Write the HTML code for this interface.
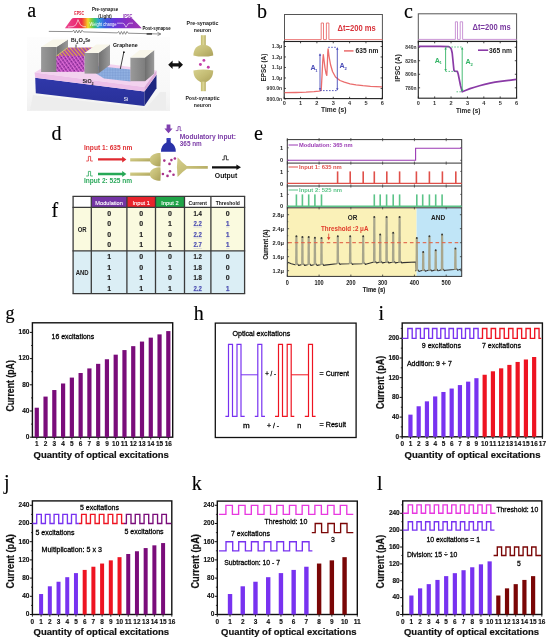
<!DOCTYPE html>
<html><head><meta charset="utf-8"><title>Figure</title>
<style>
html,body{margin:0;padding:0;background:#fff;}
body{width:550px;height:642px;overflow:hidden;font-family:"Liberation Sans", sans-serif;}
svg{display:block;filter:blur(0.3px);}
</style></head><body>
<svg width="550" height="642" viewBox="0 0 550 642" font-family='"Liberation Sans", sans-serif'>
<rect x="32.4" y="322.8" width="140.3" height="114.4" fill="none" stroke="#111" stroke-width="1.4"/>
<line x1="29.8" y1="437.2" x2="32.4" y2="437.2" stroke="#111" stroke-width="1"/>
<text x="29.4" y="439" font-size="7.5" fill="#111" stroke="#111" stroke-width="0.15" font-weight="bold" text-anchor="end" textLength="3.6" lengthAdjust="spacingAndGlyphs">0</text>
<line x1="29.8" y1="411" x2="32.4" y2="411" stroke="#111" stroke-width="1"/>
<text x="29.4" y="412.8" font-size="7.5" fill="#111" stroke="#111" stroke-width="0.15" font-weight="bold" text-anchor="end" textLength="7.2" lengthAdjust="spacingAndGlyphs">40</text>
<line x1="29.8" y1="384.8" x2="32.4" y2="384.8" stroke="#111" stroke-width="1"/>
<text x="29.4" y="386.6" font-size="7.5" fill="#111" stroke="#111" stroke-width="0.15" font-weight="bold" text-anchor="end" textLength="7.2" lengthAdjust="spacingAndGlyphs">80</text>
<line x1="29.8" y1="358.6" x2="32.4" y2="358.6" stroke="#111" stroke-width="1"/>
<text x="29.4" y="360.4" font-size="7.5" fill="#111" stroke="#111" stroke-width="0.15" font-weight="bold" text-anchor="end" textLength="10.8" lengthAdjust="spacingAndGlyphs">120</text>
<line x1="29.8" y1="332.4" x2="32.4" y2="332.4" stroke="#111" stroke-width="1"/>
<text x="29.4" y="334.2" font-size="7.5" fill="#111" stroke="#111" stroke-width="0.15" font-weight="bold" text-anchor="end" textLength="10.8" lengthAdjust="spacingAndGlyphs">160</text>
<line x1="31" y1="424.1" x2="32.4" y2="424.1" stroke="#111" stroke-width="0.8"/>
<line x1="31" y1="397.9" x2="32.4" y2="397.9" stroke="#111" stroke-width="0.8"/>
<line x1="31" y1="371.7" x2="32.4" y2="371.7" stroke="#111" stroke-width="0.8"/>
<line x1="31" y1="345.5" x2="32.4" y2="345.5" stroke="#111" stroke-width="0.8"/>
<line x1="36.78" y1="437.2" x2="36.78" y2="439.4" stroke="#111" stroke-width="0.9"/>
<line x1="45.55" y1="437.2" x2="45.55" y2="439.4" stroke="#111" stroke-width="0.9"/>
<line x1="54.32" y1="437.2" x2="54.32" y2="439.4" stroke="#111" stroke-width="0.9"/>
<line x1="63.09" y1="437.2" x2="63.09" y2="439.4" stroke="#111" stroke-width="0.9"/>
<line x1="71.86" y1="437.2" x2="71.86" y2="439.4" stroke="#111" stroke-width="0.9"/>
<line x1="80.63" y1="437.2" x2="80.63" y2="439.4" stroke="#111" stroke-width="0.9"/>
<line x1="89.4" y1="437.2" x2="89.4" y2="439.4" stroke="#111" stroke-width="0.9"/>
<line x1="98.17" y1="437.2" x2="98.17" y2="439.4" stroke="#111" stroke-width="0.9"/>
<line x1="106.93" y1="437.2" x2="106.93" y2="439.4" stroke="#111" stroke-width="0.9"/>
<line x1="115.7" y1="437.2" x2="115.7" y2="439.4" stroke="#111" stroke-width="0.9"/>
<line x1="124.47" y1="437.2" x2="124.47" y2="439.4" stroke="#111" stroke-width="0.9"/>
<line x1="133.24" y1="437.2" x2="133.24" y2="439.4" stroke="#111" stroke-width="0.9"/>
<line x1="142.01" y1="437.2" x2="142.01" y2="439.4" stroke="#111" stroke-width="0.9"/>
<line x1="150.78" y1="437.2" x2="150.78" y2="439.4" stroke="#111" stroke-width="0.9"/>
<line x1="159.55" y1="437.2" x2="159.55" y2="439.4" stroke="#111" stroke-width="0.9"/>
<line x1="168.32" y1="437.2" x2="168.32" y2="439.4" stroke="#111" stroke-width="0.9"/>
<text x="36.78" y="446.2" font-size="7.6" fill="#111" stroke="#111" stroke-width="0.15" font-weight="bold" text-anchor="middle" textLength="3.6" lengthAdjust="spacingAndGlyphs">1</text>
<text x="45.55" y="446.2" font-size="7.6" fill="#111" stroke="#111" stroke-width="0.15" font-weight="bold" text-anchor="middle" textLength="3.6" lengthAdjust="spacingAndGlyphs">2</text>
<text x="54.32" y="446.2" font-size="7.6" fill="#111" stroke="#111" stroke-width="0.15" font-weight="bold" text-anchor="middle" textLength="3.6" lengthAdjust="spacingAndGlyphs">3</text>
<text x="63.09" y="446.2" font-size="7.6" fill="#111" stroke="#111" stroke-width="0.15" font-weight="bold" text-anchor="middle" textLength="3.6" lengthAdjust="spacingAndGlyphs">4</text>
<text x="71.86" y="446.2" font-size="7.6" fill="#111" stroke="#111" stroke-width="0.15" font-weight="bold" text-anchor="middle" textLength="3.6" lengthAdjust="spacingAndGlyphs">5</text>
<text x="80.63" y="446.2" font-size="7.6" fill="#111" stroke="#111" stroke-width="0.15" font-weight="bold" text-anchor="middle" textLength="3.6" lengthAdjust="spacingAndGlyphs">6</text>
<text x="89.4" y="446.2" font-size="7.6" fill="#111" stroke="#111" stroke-width="0.15" font-weight="bold" text-anchor="middle" textLength="3.6" lengthAdjust="spacingAndGlyphs">7</text>
<text x="98.17" y="446.2" font-size="7.6" fill="#111" stroke="#111" stroke-width="0.15" font-weight="bold" text-anchor="middle" textLength="3.6" lengthAdjust="spacingAndGlyphs">8</text>
<text x="106.93" y="446.2" font-size="7.6" fill="#111" stroke="#111" stroke-width="0.15" font-weight="bold" text-anchor="middle" textLength="3.6" lengthAdjust="spacingAndGlyphs">9</text>
<text x="115.7" y="446.2" font-size="7.6" fill="#111" stroke="#111" stroke-width="0.15" font-weight="bold" text-anchor="middle" textLength="7.2" lengthAdjust="spacingAndGlyphs">10</text>
<text x="124.47" y="446.2" font-size="7.6" fill="#111" stroke="#111" stroke-width="0.15" font-weight="bold" text-anchor="middle" textLength="7.2" lengthAdjust="spacingAndGlyphs">11</text>
<text x="133.24" y="446.2" font-size="7.6" fill="#111" stroke="#111" stroke-width="0.15" font-weight="bold" text-anchor="middle" textLength="7.2" lengthAdjust="spacingAndGlyphs">12</text>
<text x="142.01" y="446.2" font-size="7.6" fill="#111" stroke="#111" stroke-width="0.15" font-weight="bold" text-anchor="middle" textLength="7.2" lengthAdjust="spacingAndGlyphs">13</text>
<text x="150.78" y="446.2" font-size="7.6" fill="#111" stroke="#111" stroke-width="0.15" font-weight="bold" text-anchor="middle" textLength="7.2" lengthAdjust="spacingAndGlyphs">14</text>
<text x="159.55" y="446.2" font-size="7.6" fill="#111" stroke="#111" stroke-width="0.15" font-weight="bold" text-anchor="middle" textLength="7.2" lengthAdjust="spacingAndGlyphs">15</text>
<text x="168.32" y="446.2" font-size="7.6" fill="#111" stroke="#111" stroke-width="0.15" font-weight="bold" text-anchor="middle" textLength="7.2" lengthAdjust="spacingAndGlyphs">16</text>
<rect x="34.68" y="407.72" width="4.2" height="29.48" fill="#7a0c7a"/>
<rect x="43.45" y="396.59" width="4.2" height="40.61" fill="#7a0c7a"/>
<rect x="52.22" y="390.04" width="4.2" height="47.16" fill="#7a0c7a"/>
<rect x="60.99" y="383.49" width="4.2" height="53.71" fill="#7a0c7a"/>
<rect x="69.76" y="377.59" width="4.2" height="59.61" fill="#7a0c7a"/>
<rect x="78.53" y="373.01" width="4.2" height="64.19" fill="#7a0c7a"/>
<rect x="87.3" y="368.42" width="4.2" height="68.78" fill="#7a0c7a"/>
<rect x="96.07" y="363.84" width="4.2" height="73.36" fill="#7a0c7a"/>
<rect x="104.83" y="359.25" width="4.2" height="77.94" fill="#7a0c7a"/>
<rect x="113.6" y="354.67" width="4.2" height="82.53" fill="#7a0c7a"/>
<rect x="122.37" y="350.08" width="4.2" height="87.12" fill="#7a0c7a"/>
<rect x="131.14" y="346.15" width="4.2" height="91.05" fill="#7a0c7a"/>
<rect x="139.91" y="341.57" width="4.2" height="95.63" fill="#7a0c7a"/>
<rect x="148.68" y="337.64" width="4.2" height="99.56" fill="#7a0c7a"/>
<rect x="157.45" y="334.37" width="4.2" height="102.83" fill="#7a0c7a"/>
<rect x="166.22" y="331.09" width="4.2" height="106.11" fill="#7a0c7a"/>
<text x="51.5" y="338.8" font-size="7.4" fill="#000" stroke="#000" stroke-width="0.28" textLength="42.7" lengthAdjust="spacingAndGlyphs">16 excitations</text>
<text x="13.7" y="385.9" font-size="10.2" fill="#111" stroke="#111" stroke-width="0.2" font-weight="bold" text-anchor="middle" textLength="51.4" lengthAdjust="spacingAndGlyphs" transform="rotate(-90 13.7 385.9)">Current (pA)</text>
<text x="33.6" y="458" font-size="9.5" fill="#111" stroke="#111" stroke-width="0.2" font-weight="bold" textLength="135.2" lengthAdjust="spacingAndGlyphs">Quantity of optical excitations</text>
<rect x="402.2" y="323" width="140.2" height="113.8" fill="none" stroke="#111" stroke-width="1.4"/>
<line x1="399.6" y1="436.8" x2="402.2" y2="436.8" stroke="#111" stroke-width="1"/>
<text x="399.2" y="438.6" font-size="7.5" fill="#111" stroke="#111" stroke-width="0.15" font-weight="bold" text-anchor="end" textLength="3.6" lengthAdjust="spacingAndGlyphs">0</text>
<line x1="399.6" y1="417.1" x2="402.2" y2="417.1" stroke="#111" stroke-width="1"/>
<text x="399.2" y="418.9" font-size="7.5" fill="#111" stroke="#111" stroke-width="0.15" font-weight="bold" text-anchor="end" textLength="7.2" lengthAdjust="spacingAndGlyphs">40</text>
<line x1="399.6" y1="397.4" x2="402.2" y2="397.4" stroke="#111" stroke-width="1"/>
<text x="399.2" y="399.2" font-size="7.5" fill="#111" stroke="#111" stroke-width="0.15" font-weight="bold" text-anchor="end" textLength="7.2" lengthAdjust="spacingAndGlyphs">80</text>
<line x1="399.6" y1="377.7" x2="402.2" y2="377.7" stroke="#111" stroke-width="1"/>
<text x="399.2" y="379.5" font-size="7.5" fill="#111" stroke="#111" stroke-width="0.15" font-weight="bold" text-anchor="end" textLength="10.8" lengthAdjust="spacingAndGlyphs">120</text>
<line x1="399.6" y1="358" x2="402.2" y2="358" stroke="#111" stroke-width="1"/>
<text x="399.2" y="359.8" font-size="7.5" fill="#111" stroke="#111" stroke-width="0.15" font-weight="bold" text-anchor="end" textLength="10.8" lengthAdjust="spacingAndGlyphs">160</text>
<line x1="399.6" y1="338.3" x2="402.2" y2="338.3" stroke="#111" stroke-width="1"/>
<text x="399.2" y="340.1" font-size="7.5" fill="#111" stroke="#111" stroke-width="0.15" font-weight="bold" text-anchor="end" textLength="10.8" lengthAdjust="spacingAndGlyphs">200</text>
<line x1="400.8" y1="426.95" x2="402.2" y2="426.95" stroke="#111" stroke-width="0.8"/>
<line x1="400.8" y1="407.25" x2="402.2" y2="407.25" stroke="#111" stroke-width="0.8"/>
<line x1="400.8" y1="387.55" x2="402.2" y2="387.55" stroke="#111" stroke-width="0.8"/>
<line x1="400.8" y1="367.85" x2="402.2" y2="367.85" stroke="#111" stroke-width="0.8"/>
<line x1="400.8" y1="348.15" x2="402.2" y2="348.15" stroke="#111" stroke-width="0.8"/>
<line x1="400.8" y1="328.45" x2="402.2" y2="328.45" stroke="#111" stroke-width="0.8"/>
<line x1="402.2" y1="436.8" x2="402.2" y2="439" stroke="#111" stroke-width="0.9"/>
<line x1="410.45" y1="436.8" x2="410.45" y2="439" stroke="#111" stroke-width="0.9"/>
<line x1="418.69" y1="436.8" x2="418.69" y2="439" stroke="#111" stroke-width="0.9"/>
<line x1="426.94" y1="436.8" x2="426.94" y2="439" stroke="#111" stroke-width="0.9"/>
<line x1="435.19" y1="436.8" x2="435.19" y2="439" stroke="#111" stroke-width="0.9"/>
<line x1="443.44" y1="436.8" x2="443.44" y2="439" stroke="#111" stroke-width="0.9"/>
<line x1="451.68" y1="436.8" x2="451.68" y2="439" stroke="#111" stroke-width="0.9"/>
<line x1="459.93" y1="436.8" x2="459.93" y2="439" stroke="#111" stroke-width="0.9"/>
<line x1="468.18" y1="436.8" x2="468.18" y2="439" stroke="#111" stroke-width="0.9"/>
<line x1="476.42" y1="436.8" x2="476.42" y2="439" stroke="#111" stroke-width="0.9"/>
<line x1="484.67" y1="436.8" x2="484.67" y2="439" stroke="#111" stroke-width="0.9"/>
<line x1="492.92" y1="436.8" x2="492.92" y2="439" stroke="#111" stroke-width="0.9"/>
<line x1="501.16" y1="436.8" x2="501.16" y2="439" stroke="#111" stroke-width="0.9"/>
<line x1="509.41" y1="436.8" x2="509.41" y2="439" stroke="#111" stroke-width="0.9"/>
<line x1="517.66" y1="436.8" x2="517.66" y2="439" stroke="#111" stroke-width="0.9"/>
<line x1="525.91" y1="436.8" x2="525.91" y2="439" stroke="#111" stroke-width="0.9"/>
<line x1="534.15" y1="436.8" x2="534.15" y2="439" stroke="#111" stroke-width="0.9"/>
<line x1="542.4" y1="436.8" x2="542.4" y2="439" stroke="#111" stroke-width="0.9"/>
<text x="402.2" y="445.8" font-size="7.6" fill="#111" stroke="#111" stroke-width="0.15" font-weight="bold" text-anchor="middle" textLength="3.6" lengthAdjust="spacingAndGlyphs">0</text>
<text x="410.45" y="445.8" font-size="7.6" fill="#111" stroke="#111" stroke-width="0.15" font-weight="bold" text-anchor="middle" textLength="3.6" lengthAdjust="spacingAndGlyphs">1</text>
<text x="418.69" y="445.8" font-size="7.6" fill="#111" stroke="#111" stroke-width="0.15" font-weight="bold" text-anchor="middle" textLength="3.6" lengthAdjust="spacingAndGlyphs">2</text>
<text x="426.94" y="445.8" font-size="7.6" fill="#111" stroke="#111" stroke-width="0.15" font-weight="bold" text-anchor="middle" textLength="3.6" lengthAdjust="spacingAndGlyphs">3</text>
<text x="435.19" y="445.8" font-size="7.6" fill="#111" stroke="#111" stroke-width="0.15" font-weight="bold" text-anchor="middle" textLength="3.6" lengthAdjust="spacingAndGlyphs">4</text>
<text x="443.44" y="445.8" font-size="7.6" fill="#111" stroke="#111" stroke-width="0.15" font-weight="bold" text-anchor="middle" textLength="3.6" lengthAdjust="spacingAndGlyphs">5</text>
<text x="451.68" y="445.8" font-size="7.6" fill="#111" stroke="#111" stroke-width="0.15" font-weight="bold" text-anchor="middle" textLength="3.6" lengthAdjust="spacingAndGlyphs">6</text>
<text x="459.93" y="445.8" font-size="7.6" fill="#111" stroke="#111" stroke-width="0.15" font-weight="bold" text-anchor="middle" textLength="3.6" lengthAdjust="spacingAndGlyphs">7</text>
<text x="468.18" y="445.8" font-size="7.6" fill="#111" stroke="#111" stroke-width="0.15" font-weight="bold" text-anchor="middle" textLength="3.6" lengthAdjust="spacingAndGlyphs">8</text>
<text x="476.42" y="445.8" font-size="7.6" fill="#111" stroke="#111" stroke-width="0.15" font-weight="bold" text-anchor="middle" textLength="3.6" lengthAdjust="spacingAndGlyphs">9</text>
<text x="484.67" y="445.8" font-size="7.6" fill="#111" stroke="#111" stroke-width="0.15" font-weight="bold" text-anchor="middle" textLength="7.2" lengthAdjust="spacingAndGlyphs">10</text>
<text x="492.92" y="445.8" font-size="7.6" fill="#111" stroke="#111" stroke-width="0.15" font-weight="bold" text-anchor="middle" textLength="7.2" lengthAdjust="spacingAndGlyphs">11</text>
<text x="501.16" y="445.8" font-size="7.6" fill="#111" stroke="#111" stroke-width="0.15" font-weight="bold" text-anchor="middle" textLength="7.2" lengthAdjust="spacingAndGlyphs">12</text>
<text x="509.41" y="445.8" font-size="7.6" fill="#111" stroke="#111" stroke-width="0.15" font-weight="bold" text-anchor="middle" textLength="7.2" lengthAdjust="spacingAndGlyphs">13</text>
<text x="517.66" y="445.8" font-size="7.6" fill="#111" stroke="#111" stroke-width="0.15" font-weight="bold" text-anchor="middle" textLength="7.2" lengthAdjust="spacingAndGlyphs">14</text>
<text x="525.91" y="445.8" font-size="7.6" fill="#111" stroke="#111" stroke-width="0.15" font-weight="bold" text-anchor="middle" textLength="7.2" lengthAdjust="spacingAndGlyphs">15</text>
<text x="534.15" y="445.8" font-size="7.6" fill="#111" stroke="#111" stroke-width="0.15" font-weight="bold" text-anchor="middle" textLength="7.2" lengthAdjust="spacingAndGlyphs">16</text>
<text x="542.4" y="445.8" font-size="7.6" fill="#111" stroke="#111" stroke-width="0.15" font-weight="bold" text-anchor="middle" textLength="7.2" lengthAdjust="spacingAndGlyphs">17</text>
<rect x="408.35" y="414.64" width="4.2" height="22.16" fill="#7832f0"/>
<rect x="416.59" y="406.26" width="4.2" height="30.54" fill="#7832f0"/>
<rect x="424.84" y="401.34" width="4.2" height="35.46" fill="#7832f0"/>
<rect x="433.09" y="396.42" width="4.2" height="40.38" fill="#7832f0"/>
<rect x="441.34" y="391.98" width="4.2" height="44.82" fill="#7832f0"/>
<rect x="449.58" y="388.54" width="4.2" height="48.26" fill="#7832f0"/>
<rect x="457.83" y="385.09" width="4.2" height="51.71" fill="#7832f0"/>
<rect x="466.08" y="381.64" width="4.2" height="55.16" fill="#7832f0"/>
<rect x="474.32" y="378.19" width="4.2" height="58.61" fill="#7832f0"/>
<rect x="482.57" y="374.75" width="4.2" height="62.06" fill="#ee1422"/>
<rect x="490.82" y="371.3" width="4.2" height="65.5" fill="#ee1422"/>
<rect x="499.06" y="368.34" width="4.2" height="68.46" fill="#ee1422"/>
<rect x="507.31" y="364.89" width="4.2" height="71.91" fill="#ee1422"/>
<rect x="515.56" y="361.94" width="4.2" height="74.86" fill="#ee1422"/>
<rect x="523.81" y="359.48" width="4.2" height="77.32" fill="#ee1422"/>
<rect x="532.05" y="357.01" width="4.2" height="79.79" fill="#ee1422"/>
<polyline points="402.2,338.3 407.8,338.3 407.8,328.45 412.2,328.45 412.2,338.3 416.04,338.3 416.04,328.45 420.44,328.45 420.44,338.3 424.28,338.3 424.28,328.45 428.68,328.45 428.68,338.3 432.52,338.3 432.52,328.45 436.92,328.45 436.92,338.3 440.76,338.3 440.76,328.45 445.16,328.45 445.16,338.3 449,338.3 449,328.45 453.4,328.45 453.4,338.3 457.24,338.3 457.24,328.45 461.64,328.45 461.64,338.3 465.48,338.3 465.48,328.45 469.88,328.45 469.88,338.3 473.72,338.3 473.72,328.45 478.12,328.45 478.12,338.3 480.3,338.3" fill="none" stroke="#7832f0" stroke-width="1.35" stroke-linejoin="miter"/>
<polyline points="480.3,338.3 482.5,338.3 482.5,328.45 486.85,328.45 486.85,338.3 491.2,338.3 491.2,328.45 495.55,328.45 495.55,338.3 499.9,338.3 499.9,328.45 504.25,328.45 504.25,338.3 508.6,338.3 508.6,328.45 512.95,328.45 512.95,338.3 517.3,338.3 517.3,328.45 521.65,328.45 521.65,338.3 526,338.3 526,328.45 530.35,328.45 530.35,338.3 534.7,338.3 534.7,328.45 539.05,328.45 539.05,338.3 541.2,338.3" fill="none" stroke="#ee1422" stroke-width="1.35" stroke-linejoin="miter"/>
<text x="421.8" y="348.4" font-size="7.4" fill="#000" stroke="#000" stroke-width="0.28" textLength="39.2" lengthAdjust="spacingAndGlyphs">9 excitations</text>
<text x="482" y="348.4" font-size="7.4" fill="#000" stroke="#000" stroke-width="0.28" textLength="39" lengthAdjust="spacingAndGlyphs">7 excitations</text>
<text x="406.9" y="365.9" font-size="7.4" fill="#000" stroke="#000" stroke-width="0.28" textLength="44.9" lengthAdjust="spacingAndGlyphs">Addition: 9 + 7</text>
<text x="384" y="382.5" font-size="10.2" fill="#111" stroke="#111" stroke-width="0.2" font-weight="bold" text-anchor="middle" textLength="53.7" lengthAdjust="spacingAndGlyphs" transform="rotate(-90 384 382.5)">Current (pA)</text>
<text x="404.5" y="458" font-size="9.5" fill="#111" stroke="#111" stroke-width="0.2" font-weight="bold" textLength="136" lengthAdjust="spacingAndGlyphs">Quantity of optical excitations</text>
<rect x="32.4" y="500.9" width="139.4" height="113.6" fill="none" stroke="#111" stroke-width="1.4"/>
<line x1="29.8" y1="614.5" x2="32.4" y2="614.5" stroke="#111" stroke-width="1"/>
<text x="29.4" y="616.3" font-size="7.5" fill="#111" stroke="#111" stroke-width="0.15" font-weight="bold" text-anchor="end" textLength="3.6" lengthAdjust="spacingAndGlyphs">0</text>
<line x1="29.8" y1="596.3" x2="32.4" y2="596.3" stroke="#111" stroke-width="1"/>
<text x="29.4" y="598.1" font-size="7.5" fill="#111" stroke="#111" stroke-width="0.15" font-weight="bold" text-anchor="end" textLength="7.2" lengthAdjust="spacingAndGlyphs">40</text>
<line x1="29.8" y1="578.1" x2="32.4" y2="578.1" stroke="#111" stroke-width="1"/>
<text x="29.4" y="579.9" font-size="7.5" fill="#111" stroke="#111" stroke-width="0.15" font-weight="bold" text-anchor="end" textLength="7.2" lengthAdjust="spacingAndGlyphs">80</text>
<line x1="29.8" y1="559.9" x2="32.4" y2="559.9" stroke="#111" stroke-width="1"/>
<text x="29.4" y="561.7" font-size="7.5" fill="#111" stroke="#111" stroke-width="0.15" font-weight="bold" text-anchor="end" textLength="10.8" lengthAdjust="spacingAndGlyphs">120</text>
<line x1="29.8" y1="541.7" x2="32.4" y2="541.7" stroke="#111" stroke-width="1"/>
<text x="29.4" y="543.5" font-size="7.5" fill="#111" stroke="#111" stroke-width="0.15" font-weight="bold" text-anchor="end" textLength="10.8" lengthAdjust="spacingAndGlyphs">160</text>
<line x1="29.8" y1="523.5" x2="32.4" y2="523.5" stroke="#111" stroke-width="1"/>
<text x="29.4" y="525.3" font-size="7.5" fill="#111" stroke="#111" stroke-width="0.15" font-weight="bold" text-anchor="end" textLength="10.8" lengthAdjust="spacingAndGlyphs">200</text>
<line x1="29.8" y1="505.3" x2="32.4" y2="505.3" stroke="#111" stroke-width="1"/>
<text x="29.4" y="507.1" font-size="7.5" fill="#111" stroke="#111" stroke-width="0.15" font-weight="bold" text-anchor="end" textLength="10.8" lengthAdjust="spacingAndGlyphs">240</text>
<line x1="31" y1="605.4" x2="32.4" y2="605.4" stroke="#111" stroke-width="0.8"/>
<line x1="31" y1="587.2" x2="32.4" y2="587.2" stroke="#111" stroke-width="0.8"/>
<line x1="31" y1="569" x2="32.4" y2="569" stroke="#111" stroke-width="0.8"/>
<line x1="31" y1="550.8" x2="32.4" y2="550.8" stroke="#111" stroke-width="0.8"/>
<line x1="31" y1="532.6" x2="32.4" y2="532.6" stroke="#111" stroke-width="0.8"/>
<line x1="31" y1="514.4" x2="32.4" y2="514.4" stroke="#111" stroke-width="0.8"/>
<line x1="32.4" y1="614.5" x2="32.4" y2="616.7" stroke="#111" stroke-width="0.9"/>
<line x1="41.11" y1="614.5" x2="41.11" y2="616.7" stroke="#111" stroke-width="0.9"/>
<line x1="49.83" y1="614.5" x2="49.83" y2="616.7" stroke="#111" stroke-width="0.9"/>
<line x1="58.54" y1="614.5" x2="58.54" y2="616.7" stroke="#111" stroke-width="0.9"/>
<line x1="67.25" y1="614.5" x2="67.25" y2="616.7" stroke="#111" stroke-width="0.9"/>
<line x1="75.96" y1="614.5" x2="75.96" y2="616.7" stroke="#111" stroke-width="0.9"/>
<line x1="84.68" y1="614.5" x2="84.68" y2="616.7" stroke="#111" stroke-width="0.9"/>
<line x1="93.39" y1="614.5" x2="93.39" y2="616.7" stroke="#111" stroke-width="0.9"/>
<line x1="102.1" y1="614.5" x2="102.1" y2="616.7" stroke="#111" stroke-width="0.9"/>
<line x1="110.81" y1="614.5" x2="110.81" y2="616.7" stroke="#111" stroke-width="0.9"/>
<line x1="119.53" y1="614.5" x2="119.53" y2="616.7" stroke="#111" stroke-width="0.9"/>
<line x1="128.24" y1="614.5" x2="128.24" y2="616.7" stroke="#111" stroke-width="0.9"/>
<line x1="136.95" y1="614.5" x2="136.95" y2="616.7" stroke="#111" stroke-width="0.9"/>
<line x1="145.66" y1="614.5" x2="145.66" y2="616.7" stroke="#111" stroke-width="0.9"/>
<line x1="154.38" y1="614.5" x2="154.38" y2="616.7" stroke="#111" stroke-width="0.9"/>
<line x1="163.09" y1="614.5" x2="163.09" y2="616.7" stroke="#111" stroke-width="0.9"/>
<line x1="171.8" y1="614.5" x2="171.8" y2="616.7" stroke="#111" stroke-width="0.9"/>
<text x="32.4" y="623.5" font-size="7.6" fill="#111" stroke="#111" stroke-width="0.15" font-weight="bold" text-anchor="middle" textLength="3.6" lengthAdjust="spacingAndGlyphs">0</text>
<text x="41.11" y="623.5" font-size="7.6" fill="#111" stroke="#111" stroke-width="0.15" font-weight="bold" text-anchor="middle" textLength="3.6" lengthAdjust="spacingAndGlyphs">1</text>
<text x="49.83" y="623.5" font-size="7.6" fill="#111" stroke="#111" stroke-width="0.15" font-weight="bold" text-anchor="middle" textLength="3.6" lengthAdjust="spacingAndGlyphs">2</text>
<text x="58.54" y="623.5" font-size="7.6" fill="#111" stroke="#111" stroke-width="0.15" font-weight="bold" text-anchor="middle" textLength="3.6" lengthAdjust="spacingAndGlyphs">3</text>
<text x="67.25" y="623.5" font-size="7.6" fill="#111" stroke="#111" stroke-width="0.15" font-weight="bold" text-anchor="middle" textLength="3.6" lengthAdjust="spacingAndGlyphs">4</text>
<text x="75.96" y="623.5" font-size="7.6" fill="#111" stroke="#111" stroke-width="0.15" font-weight="bold" text-anchor="middle" textLength="3.6" lengthAdjust="spacingAndGlyphs">5</text>
<text x="84.68" y="623.5" font-size="7.6" fill="#111" stroke="#111" stroke-width="0.15" font-weight="bold" text-anchor="middle" textLength="3.6" lengthAdjust="spacingAndGlyphs">6</text>
<text x="93.39" y="623.5" font-size="7.6" fill="#111" stroke="#111" stroke-width="0.15" font-weight="bold" text-anchor="middle" textLength="3.6" lengthAdjust="spacingAndGlyphs">7</text>
<text x="102.1" y="623.5" font-size="7.6" fill="#111" stroke="#111" stroke-width="0.15" font-weight="bold" text-anchor="middle" textLength="3.6" lengthAdjust="spacingAndGlyphs">8</text>
<text x="110.81" y="623.5" font-size="7.6" fill="#111" stroke="#111" stroke-width="0.15" font-weight="bold" text-anchor="middle" textLength="3.6" lengthAdjust="spacingAndGlyphs">9</text>
<text x="119.53" y="623.5" font-size="7.6" fill="#111" stroke="#111" stroke-width="0.15" font-weight="bold" text-anchor="middle" textLength="7.2" lengthAdjust="spacingAndGlyphs">10</text>
<text x="128.24" y="623.5" font-size="7.6" fill="#111" stroke="#111" stroke-width="0.15" font-weight="bold" text-anchor="middle" textLength="7.2" lengthAdjust="spacingAndGlyphs">11</text>
<text x="136.95" y="623.5" font-size="7.6" fill="#111" stroke="#111" stroke-width="0.15" font-weight="bold" text-anchor="middle" textLength="7.2" lengthAdjust="spacingAndGlyphs">12</text>
<text x="145.66" y="623.5" font-size="7.6" fill="#111" stroke="#111" stroke-width="0.15" font-weight="bold" text-anchor="middle" textLength="7.2" lengthAdjust="spacingAndGlyphs">13</text>
<text x="154.38" y="623.5" font-size="7.6" fill="#111" stroke="#111" stroke-width="0.15" font-weight="bold" text-anchor="middle" textLength="7.2" lengthAdjust="spacingAndGlyphs">14</text>
<text x="163.09" y="623.5" font-size="7.6" fill="#111" stroke="#111" stroke-width="0.15" font-weight="bold" text-anchor="middle" textLength="7.2" lengthAdjust="spacingAndGlyphs">15</text>
<text x="171.8" y="623.5" font-size="7.6" fill="#111" stroke="#111" stroke-width="0.15" font-weight="bold" text-anchor="middle" textLength="7.2" lengthAdjust="spacingAndGlyphs">16</text>
<rect x="39.11" y="594.02" width="4" height="20.48" fill="#7832f0"/>
<rect x="47.83" y="586.29" width="4" height="28.21" fill="#7832f0"/>
<rect x="56.54" y="581.74" width="4" height="32.76" fill="#7832f0"/>
<rect x="65.25" y="577.19" width="4" height="37.31" fill="#7832f0"/>
<rect x="73.96" y="573.1" width="4" height="41.4" fill="#7832f0"/>
<rect x="82.68" y="569.91" width="4" height="44.59" fill="#ee1422"/>
<rect x="91.39" y="566.73" width="4" height="47.77" fill="#ee1422"/>
<rect x="100.1" y="563.54" width="4" height="50.96" fill="#ee1422"/>
<rect x="108.81" y="560.36" width="4" height="54.14" fill="#ee1422"/>
<rect x="117.53" y="557.17" width="4" height="57.33" fill="#ee1422"/>
<rect x="126.24" y="553.99" width="4" height="60.51" fill="#7a0c7a"/>
<rect x="134.95" y="551.25" width="4" height="63.25" fill="#7a0c7a"/>
<rect x="143.66" y="548.07" width="4" height="66.43" fill="#7a0c7a"/>
<rect x="152.38" y="545.34" width="4" height="69.16" fill="#7a0c7a"/>
<rect x="161.09" y="543.07" width="4" height="71.43" fill="#7a0c7a"/>
<polyline points="32.4,523.5 36.7,523.5 36.7,514.4 41.3,514.4 41.3,523.5 45.4,523.5 45.4,514.4 50,514.4 50,523.5 54.1,523.5 54.1,514.4 58.7,514.4 58.7,523.5 62.8,523.5 62.8,514.4 67.4,514.4 67.4,523.5 71.5,523.5 71.5,514.4 76.1,514.4 76.1,523.5 78.9,523.5" fill="none" stroke="#7832f0" stroke-width="1.35" stroke-linejoin="miter"/>
<polyline points="78.9,523.5 81.6,523.5 81.6,514.4 86.2,514.4 86.2,523.5 90.45,523.5 90.45,514.4 95.05,514.4 95.05,523.5 99.3,523.5 99.3,514.4 103.9,514.4 103.9,523.5 108.15,523.5 108.15,514.4 112.75,514.4 112.75,523.5 117,523.5 117,514.4 121.6,514.4 121.6,523.5 124,523.5" fill="none" stroke="#ee1422" stroke-width="1.35" stroke-linejoin="miter"/>
<polyline points="124,523.5 126.4,523.5 126.4,514.4 131,514.4 131,523.5 135.25,523.5 135.25,514.4 139.85,514.4 139.85,523.5 144.1,523.5 144.1,514.4 148.7,514.4 148.7,523.5 152.95,523.5 152.95,514.4 157.55,514.4 157.55,523.5 161.8,523.5 161.8,514.4 166.4,514.4 166.4,523.5 171.2,523.5" fill="none" stroke="#7a0c7a" stroke-width="1.35" stroke-linejoin="miter"/>
<text x="80" y="509.7" font-size="7.4" fill="#000" stroke="#000" stroke-width="0.28" textLength="39" lengthAdjust="spacingAndGlyphs">5 excitations</text>
<text x="35.5" y="535.1" font-size="7.4" fill="#000" stroke="#000" stroke-width="0.28" textLength="39" lengthAdjust="spacingAndGlyphs">5 excitations</text>
<text x="124.5" y="533.9" font-size="7.4" fill="#000" stroke="#000" stroke-width="0.28" textLength="39.1" lengthAdjust="spacingAndGlyphs">5 excitations</text>
<text x="41.5" y="551.9" font-size="7.4" fill="#000" stroke="#000" stroke-width="0.28" textLength="60.4" lengthAdjust="spacingAndGlyphs">Multiplication: 5 x 3</text>
<text x="14" y="561.3" font-size="10.2" fill="#111" stroke="#111" stroke-width="0.2" font-weight="bold" text-anchor="middle" textLength="54.5" lengthAdjust="spacingAndGlyphs" transform="rotate(-90 14 561.3)">Current (pA)</text>
<text x="33.6" y="635.4" font-size="9.5" fill="#111" stroke="#111" stroke-width="0.2" font-weight="bold" textLength="135.5" lengthAdjust="spacingAndGlyphs">Quantity of optical excitations</text>
<rect x="217.3" y="501.1" width="140" height="113.4" fill="none" stroke="#111" stroke-width="1.4"/>
<line x1="214.7" y1="614.5" x2="217.3" y2="614.5" stroke="#111" stroke-width="1"/>
<text x="214.3" y="616.3" font-size="7.5" fill="#111" stroke="#111" stroke-width="0.15" font-weight="bold" text-anchor="end" textLength="3.6" lengthAdjust="spacingAndGlyphs">0</text>
<line x1="214.7" y1="596.3" x2="217.3" y2="596.3" stroke="#111" stroke-width="1"/>
<text x="214.3" y="598.1" font-size="7.5" fill="#111" stroke="#111" stroke-width="0.15" font-weight="bold" text-anchor="end" textLength="7.2" lengthAdjust="spacingAndGlyphs">40</text>
<line x1="214.7" y1="578.1" x2="217.3" y2="578.1" stroke="#111" stroke-width="1"/>
<text x="214.3" y="579.9" font-size="7.5" fill="#111" stroke="#111" stroke-width="0.15" font-weight="bold" text-anchor="end" textLength="7.2" lengthAdjust="spacingAndGlyphs">80</text>
<line x1="214.7" y1="559.9" x2="217.3" y2="559.9" stroke="#111" stroke-width="1"/>
<text x="214.3" y="561.7" font-size="7.5" fill="#111" stroke="#111" stroke-width="0.15" font-weight="bold" text-anchor="end" textLength="10.8" lengthAdjust="spacingAndGlyphs">120</text>
<line x1="214.7" y1="541.7" x2="217.3" y2="541.7" stroke="#111" stroke-width="1"/>
<text x="214.3" y="543.5" font-size="7.5" fill="#111" stroke="#111" stroke-width="0.15" font-weight="bold" text-anchor="end" textLength="10.8" lengthAdjust="spacingAndGlyphs">160</text>
<line x1="214.7" y1="523.5" x2="217.3" y2="523.5" stroke="#111" stroke-width="1"/>
<text x="214.3" y="525.3" font-size="7.5" fill="#111" stroke="#111" stroke-width="0.15" font-weight="bold" text-anchor="end" textLength="10.8" lengthAdjust="spacingAndGlyphs">200</text>
<line x1="214.7" y1="505.3" x2="217.3" y2="505.3" stroke="#111" stroke-width="1"/>
<text x="214.3" y="507.1" font-size="7.5" fill="#111" stroke="#111" stroke-width="0.15" font-weight="bold" text-anchor="end" textLength="10.8" lengthAdjust="spacingAndGlyphs">240</text>
<line x1="215.9" y1="605.4" x2="217.3" y2="605.4" stroke="#111" stroke-width="0.8"/>
<line x1="215.9" y1="587.2" x2="217.3" y2="587.2" stroke="#111" stroke-width="0.8"/>
<line x1="215.9" y1="569" x2="217.3" y2="569" stroke="#111" stroke-width="0.8"/>
<line x1="215.9" y1="550.8" x2="217.3" y2="550.8" stroke="#111" stroke-width="0.8"/>
<line x1="215.9" y1="532.6" x2="217.3" y2="532.6" stroke="#111" stroke-width="0.8"/>
<line x1="215.9" y1="514.4" x2="217.3" y2="514.4" stroke="#111" stroke-width="0.8"/>
<line x1="217.3" y1="614.5" x2="217.3" y2="616.7" stroke="#111" stroke-width="0.9"/>
<line x1="230.03" y1="614.5" x2="230.03" y2="616.7" stroke="#111" stroke-width="0.9"/>
<line x1="242.75" y1="614.5" x2="242.75" y2="616.7" stroke="#111" stroke-width="0.9"/>
<line x1="255.48" y1="614.5" x2="255.48" y2="616.7" stroke="#111" stroke-width="0.9"/>
<line x1="268.21" y1="614.5" x2="268.21" y2="616.7" stroke="#111" stroke-width="0.9"/>
<line x1="280.94" y1="614.5" x2="280.94" y2="616.7" stroke="#111" stroke-width="0.9"/>
<line x1="293.66" y1="614.5" x2="293.66" y2="616.7" stroke="#111" stroke-width="0.9"/>
<line x1="306.39" y1="614.5" x2="306.39" y2="616.7" stroke="#111" stroke-width="0.9"/>
<line x1="319.12" y1="614.5" x2="319.12" y2="616.7" stroke="#111" stroke-width="0.9"/>
<line x1="331.85" y1="614.5" x2="331.85" y2="616.7" stroke="#111" stroke-width="0.9"/>
<line x1="344.57" y1="614.5" x2="344.57" y2="616.7" stroke="#111" stroke-width="0.9"/>
<line x1="357.3" y1="614.5" x2="357.3" y2="616.7" stroke="#111" stroke-width="0.9"/>
<text x="217.3" y="623.5" font-size="7.6" fill="#111" stroke="#111" stroke-width="0.15" font-weight="bold" text-anchor="middle" textLength="3.6" lengthAdjust="spacingAndGlyphs">0</text>
<text x="230.03" y="623.5" font-size="7.6" fill="#111" stroke="#111" stroke-width="0.15" font-weight="bold" text-anchor="middle" textLength="3.6" lengthAdjust="spacingAndGlyphs">1</text>
<text x="242.75" y="623.5" font-size="7.6" fill="#111" stroke="#111" stroke-width="0.15" font-weight="bold" text-anchor="middle" textLength="3.6" lengthAdjust="spacingAndGlyphs">2</text>
<text x="255.48" y="623.5" font-size="7.6" fill="#111" stroke="#111" stroke-width="0.15" font-weight="bold" text-anchor="middle" textLength="3.6" lengthAdjust="spacingAndGlyphs">3</text>
<text x="268.21" y="623.5" font-size="7.6" fill="#111" stroke="#111" stroke-width="0.15" font-weight="bold" text-anchor="middle" textLength="3.6" lengthAdjust="spacingAndGlyphs">4</text>
<text x="280.94" y="623.5" font-size="7.6" fill="#111" stroke="#111" stroke-width="0.15" font-weight="bold" text-anchor="middle" textLength="3.6" lengthAdjust="spacingAndGlyphs">5</text>
<text x="293.66" y="623.5" font-size="7.6" fill="#111" stroke="#111" stroke-width="0.15" font-weight="bold" text-anchor="middle" textLength="3.6" lengthAdjust="spacingAndGlyphs">6</text>
<text x="306.39" y="623.5" font-size="7.6" fill="#111" stroke="#111" stroke-width="0.15" font-weight="bold" text-anchor="middle" textLength="3.6" lengthAdjust="spacingAndGlyphs">7</text>
<text x="319.12" y="623.5" font-size="7.6" fill="#111" stroke="#111" stroke-width="0.15" font-weight="bold" text-anchor="middle" textLength="3.6" lengthAdjust="spacingAndGlyphs">8</text>
<text x="331.85" y="623.5" font-size="7.6" fill="#111" stroke="#111" stroke-width="0.15" font-weight="bold" text-anchor="middle" textLength="3.6" lengthAdjust="spacingAndGlyphs">9</text>
<text x="344.57" y="623.5" font-size="7.6" fill="#111" stroke="#111" stroke-width="0.15" font-weight="bold" text-anchor="middle" textLength="7.2" lengthAdjust="spacingAndGlyphs">10</text>
<text x="357.3" y="623.5" font-size="7.6" fill="#111" stroke="#111" stroke-width="0.15" font-weight="bold" text-anchor="middle" textLength="7.2" lengthAdjust="spacingAndGlyphs">11</text>
<rect x="227.83" y="594.02" width="4.4" height="20.48" fill="#7832f0"/>
<rect x="240.55" y="586.29" width="4.4" height="28.21" fill="#7832f0"/>
<rect x="253.28" y="581.74" width="4.4" height="32.76" fill="#7832f0"/>
<rect x="266.01" y="577.19" width="4.4" height="37.31" fill="#7832f0"/>
<rect x="278.74" y="573.1" width="4.4" height="41.4" fill="#7832f0"/>
<rect x="291.46" y="569.91" width="4.4" height="44.59" fill="#7832f0"/>
<rect x="304.19" y="566.73" width="4.4" height="47.77" fill="#7832f0"/>
<rect x="316.92" y="563.54" width="4.4" height="50.96" fill="#7a0606"/>
<rect x="329.65" y="560.36" width="4.4" height="54.14" fill="#7a0606"/>
<rect x="342.37" y="557.17" width="4.4" height="57.33" fill="#7a0606"/>
<polyline points="219,514.4 225.9,514.4 225.9,505.3 232.4,505.3 232.4,514.4 238.61,514.4 238.61,505.3 245.11,505.3 245.11,514.4 251.32,514.4 251.32,505.3 257.82,505.3 257.82,514.4 264.03,514.4 264.03,505.3 270.53,505.3 270.53,514.4 276.74,514.4 276.74,505.3 283.24,505.3 283.24,514.4 289.45,514.4 289.45,505.3 295.95,505.3 295.95,514.4 302.16,514.4 302.16,505.3 308.66,505.3 308.66,514.4 314.87,514.4 314.87,505.3 321.37,505.3 321.37,514.4 327.58,514.4 327.58,505.3 334.08,505.3 334.08,514.4 340.29,514.4 340.29,505.3 346.79,505.3 346.79,514.4 353.3,514.4" fill="none" stroke="#e838e0" stroke-width="1.35" stroke-linejoin="miter"/>
<polyline points="219,550.8 226,550.8 226,541.7 232.7,541.7 232.7,550.8 238.72,550.8 238.72,541.7 245.42,541.7 245.42,550.8 251.44,550.8 251.44,541.7 258.14,541.7 258.14,550.8 264.16,550.8 264.16,541.7 270.86,541.7 270.86,550.8 276.88,550.8 276.88,541.7 283.58,541.7 283.58,550.8 289.6,550.8 289.6,541.7 296.3,541.7 296.3,550.8 302.32,550.8 302.32,541.7 309.02,541.7 309.02,550.8 312.4,550.8" fill="none" stroke="#7832f0" stroke-width="1.35" stroke-linejoin="miter"/>
<polyline points="311.8,532.6 315.2,532.6 315.2,523.5 321.6,523.5 321.6,532.6 327.91,532.6 327.91,523.5 334.31,523.5 334.31,532.6 340.62,532.6 340.62,523.5 347.02,523.5 347.02,532.6 353.3,532.6" fill="none" stroke="#7a0606" stroke-width="1.35" stroke-linejoin="miter"/>
<text x="264.5" y="523.9" font-size="7.4" fill="#000" stroke="#000" stroke-width="0.28" textLength="42.8" lengthAdjust="spacingAndGlyphs">Threshold: 10</text>
<text x="230.9" y="536.2" font-size="7.4" fill="#000" stroke="#000" stroke-width="0.28" textLength="39.1" lengthAdjust="spacingAndGlyphs">7 excitations</text>
<text x="331" y="541.6" font-size="7.8" fill="#000" stroke="#000" stroke-width="0.28" textLength="3.8" lengthAdjust="spacingAndGlyphs">3</text>
<text x="224.2" y="565.1" font-size="7.4" fill="#000" stroke="#000" stroke-width="0.28" textLength="55.8" lengthAdjust="spacingAndGlyphs">Subtraction: 10 - 7</text>
<text x="198.7" y="561.3" font-size="10.2" fill="#111" stroke="#111" stroke-width="0.2" font-weight="bold" text-anchor="middle" textLength="54.5" lengthAdjust="spacingAndGlyphs" transform="rotate(-90 198.7 561.3)">Current (pA)</text>
<text x="221" y="635.4" font-size="9.5" fill="#111" stroke="#111" stroke-width="0.2" font-weight="bold" textLength="135.5" lengthAdjust="spacingAndGlyphs">Quantity of optical excitations</text>
<rect x="402.7" y="500.9" width="139.1" height="113.6" fill="none" stroke="#111" stroke-width="1.4"/>
<line x1="400.1" y1="614.5" x2="402.7" y2="614.5" stroke="#111" stroke-width="1"/>
<text x="399.7" y="616.3" font-size="7.5" fill="#111" stroke="#111" stroke-width="0.15" font-weight="bold" text-anchor="end" textLength="3.6" lengthAdjust="spacingAndGlyphs">0</text>
<line x1="400.1" y1="597.63" x2="402.7" y2="597.63" stroke="#111" stroke-width="1"/>
<text x="399.7" y="599.43" font-size="7.5" fill="#111" stroke="#111" stroke-width="0.15" font-weight="bold" text-anchor="end" textLength="7.2" lengthAdjust="spacingAndGlyphs">40</text>
<line x1="400.1" y1="580.76" x2="402.7" y2="580.76" stroke="#111" stroke-width="1"/>
<text x="399.7" y="582.56" font-size="7.5" fill="#111" stroke="#111" stroke-width="0.15" font-weight="bold" text-anchor="end" textLength="7.2" lengthAdjust="spacingAndGlyphs">80</text>
<line x1="400.1" y1="563.9" x2="402.7" y2="563.9" stroke="#111" stroke-width="1"/>
<text x="399.7" y="565.7" font-size="7.5" fill="#111" stroke="#111" stroke-width="0.15" font-weight="bold" text-anchor="end" textLength="10.8" lengthAdjust="spacingAndGlyphs">120</text>
<line x1="400.1" y1="547.03" x2="402.7" y2="547.03" stroke="#111" stroke-width="1"/>
<text x="399.7" y="548.83" font-size="7.5" fill="#111" stroke="#111" stroke-width="0.15" font-weight="bold" text-anchor="end" textLength="10.8" lengthAdjust="spacingAndGlyphs">160</text>
<line x1="400.1" y1="530.16" x2="402.7" y2="530.16" stroke="#111" stroke-width="1"/>
<text x="399.7" y="531.96" font-size="7.5" fill="#111" stroke="#111" stroke-width="0.15" font-weight="bold" text-anchor="end" textLength="10.8" lengthAdjust="spacingAndGlyphs">200</text>
<line x1="400.1" y1="513.29" x2="402.7" y2="513.29" stroke="#111" stroke-width="1"/>
<text x="399.7" y="515.09" font-size="7.5" fill="#111" stroke="#111" stroke-width="0.15" font-weight="bold" text-anchor="end" textLength="10.8" lengthAdjust="spacingAndGlyphs">240</text>
<line x1="401.3" y1="606.07" x2="402.7" y2="606.07" stroke="#111" stroke-width="0.8"/>
<line x1="401.3" y1="589.2" x2="402.7" y2="589.2" stroke="#111" stroke-width="0.8"/>
<line x1="401.3" y1="572.33" x2="402.7" y2="572.33" stroke="#111" stroke-width="0.8"/>
<line x1="401.3" y1="555.46" x2="402.7" y2="555.46" stroke="#111" stroke-width="0.8"/>
<line x1="401.3" y1="538.59" x2="402.7" y2="538.59" stroke="#111" stroke-width="0.8"/>
<line x1="401.3" y1="521.73" x2="402.7" y2="521.73" stroke="#111" stroke-width="0.8"/>
<line x1="401.3" y1="504.86" x2="402.7" y2="504.86" stroke="#111" stroke-width="0.8"/>
<line x1="402.7" y1="614.5" x2="402.7" y2="616.7" stroke="#111" stroke-width="0.9"/>
<line x1="411.39" y1="614.5" x2="411.39" y2="616.7" stroke="#111" stroke-width="0.9"/>
<line x1="420.09" y1="614.5" x2="420.09" y2="616.7" stroke="#111" stroke-width="0.9"/>
<line x1="428.78" y1="614.5" x2="428.78" y2="616.7" stroke="#111" stroke-width="0.9"/>
<line x1="437.47" y1="614.5" x2="437.47" y2="616.7" stroke="#111" stroke-width="0.9"/>
<line x1="446.17" y1="614.5" x2="446.17" y2="616.7" stroke="#111" stroke-width="0.9"/>
<line x1="454.86" y1="614.5" x2="454.86" y2="616.7" stroke="#111" stroke-width="0.9"/>
<line x1="463.56" y1="614.5" x2="463.56" y2="616.7" stroke="#111" stroke-width="0.9"/>
<line x1="472.25" y1="614.5" x2="472.25" y2="616.7" stroke="#111" stroke-width="0.9"/>
<line x1="480.94" y1="614.5" x2="480.94" y2="616.7" stroke="#111" stroke-width="0.9"/>
<line x1="489.64" y1="614.5" x2="489.64" y2="616.7" stroke="#111" stroke-width="0.9"/>
<line x1="498.33" y1="614.5" x2="498.33" y2="616.7" stroke="#111" stroke-width="0.9"/>
<line x1="507.02" y1="614.5" x2="507.02" y2="616.7" stroke="#111" stroke-width="0.9"/>
<line x1="515.72" y1="614.5" x2="515.72" y2="616.7" stroke="#111" stroke-width="0.9"/>
<line x1="524.41" y1="614.5" x2="524.41" y2="616.7" stroke="#111" stroke-width="0.9"/>
<line x1="533.11" y1="614.5" x2="533.11" y2="616.7" stroke="#111" stroke-width="0.9"/>
<line x1="541.8" y1="614.5" x2="541.8" y2="616.7" stroke="#111" stroke-width="0.9"/>
<text x="402.7" y="623.5" font-size="7.6" fill="#111" stroke="#111" stroke-width="0.15" font-weight="bold" text-anchor="middle" textLength="3.6" lengthAdjust="spacingAndGlyphs">0</text>
<text x="411.39" y="623.5" font-size="7.6" fill="#111" stroke="#111" stroke-width="0.15" font-weight="bold" text-anchor="middle" textLength="3.6" lengthAdjust="spacingAndGlyphs">1</text>
<text x="420.09" y="623.5" font-size="7.6" fill="#111" stroke="#111" stroke-width="0.15" font-weight="bold" text-anchor="middle" textLength="3.6" lengthAdjust="spacingAndGlyphs">2</text>
<text x="428.78" y="623.5" font-size="7.6" fill="#111" stroke="#111" stroke-width="0.15" font-weight="bold" text-anchor="middle" textLength="3.6" lengthAdjust="spacingAndGlyphs">3</text>
<text x="437.47" y="623.5" font-size="7.6" fill="#111" stroke="#111" stroke-width="0.15" font-weight="bold" text-anchor="middle" textLength="3.6" lengthAdjust="spacingAndGlyphs">4</text>
<text x="446.17" y="623.5" font-size="7.6" fill="#111" stroke="#111" stroke-width="0.15" font-weight="bold" text-anchor="middle" textLength="3.6" lengthAdjust="spacingAndGlyphs">5</text>
<text x="454.86" y="623.5" font-size="7.6" fill="#111" stroke="#111" stroke-width="0.15" font-weight="bold" text-anchor="middle" textLength="3.6" lengthAdjust="spacingAndGlyphs">6</text>
<text x="463.56" y="623.5" font-size="7.6" fill="#111" stroke="#111" stroke-width="0.15" font-weight="bold" text-anchor="middle" textLength="3.6" lengthAdjust="spacingAndGlyphs">7</text>
<text x="472.25" y="623.5" font-size="7.6" fill="#111" stroke="#111" stroke-width="0.15" font-weight="bold" text-anchor="middle" textLength="3.6" lengthAdjust="spacingAndGlyphs">8</text>
<text x="480.94" y="623.5" font-size="7.6" fill="#111" stroke="#111" stroke-width="0.15" font-weight="bold" text-anchor="middle" textLength="3.6" lengthAdjust="spacingAndGlyphs">9</text>
<text x="489.64" y="623.5" font-size="7.6" fill="#111" stroke="#111" stroke-width="0.15" font-weight="bold" text-anchor="middle" textLength="7.2" lengthAdjust="spacingAndGlyphs">10</text>
<text x="498.33" y="623.5" font-size="7.6" fill="#111" stroke="#111" stroke-width="0.15" font-weight="bold" text-anchor="middle" textLength="7.2" lengthAdjust="spacingAndGlyphs">11</text>
<text x="507.02" y="623.5" font-size="7.6" fill="#111" stroke="#111" stroke-width="0.15" font-weight="bold" text-anchor="middle" textLength="7.2" lengthAdjust="spacingAndGlyphs">12</text>
<text x="515.72" y="623.5" font-size="7.6" fill="#111" stroke="#111" stroke-width="0.15" font-weight="bold" text-anchor="middle" textLength="7.2" lengthAdjust="spacingAndGlyphs">13</text>
<text x="524.41" y="623.5" font-size="7.6" fill="#111" stroke="#111" stroke-width="0.15" font-weight="bold" text-anchor="middle" textLength="7.2" lengthAdjust="spacingAndGlyphs">14</text>
<text x="533.11" y="623.5" font-size="7.6" fill="#111" stroke="#111" stroke-width="0.15" font-weight="bold" text-anchor="middle" textLength="7.2" lengthAdjust="spacingAndGlyphs">15</text>
<text x="541.8" y="623.5" font-size="7.6" fill="#111" stroke="#111" stroke-width="0.15" font-weight="bold" text-anchor="middle" textLength="7.2" lengthAdjust="spacingAndGlyphs">16</text>
<rect x="409.29" y="595.52" width="4.2" height="18.98" fill="#7832f0"/>
<rect x="417.99" y="588.35" width="4.2" height="26.15" fill="#7832f0"/>
<rect x="426.68" y="584.14" width="4.2" height="30.36" fill="#7832f0"/>
<rect x="435.37" y="579.92" width="4.2" height="34.58" fill="#7832f0"/>
<rect x="444.07" y="576.13" width="4.2" height="38.37" fill="#7832f0"/>
<rect x="452.76" y="573.17" width="4.2" height="41.33" fill="#7832f0"/>
<rect x="461.46" y="570.22" width="4.2" height="44.28" fill="#7832f0"/>
<rect x="470.15" y="567.27" width="4.2" height="47.23" fill="#7832f0"/>
<rect x="478.84" y="564.32" width="4.2" height="50.18" fill="#7832f0"/>
<rect x="487.54" y="561.37" width="4.2" height="53.13" fill="#7832f0"/>
<rect x="496.23" y="595.52" width="4.2" height="18.98" fill="#7a0606"/>
<rect x="504.92" y="588.35" width="4.2" height="26.15" fill="#7a0606"/>
<rect x="513.62" y="584.14" width="4.2" height="30.36" fill="#7a0606"/>
<rect x="522.31" y="579.92" width="4.2" height="34.58" fill="#7a0606"/>
<rect x="531.01" y="576.13" width="4.2" height="38.37" fill="#7a0606"/>
<polyline points="402.7,513.29 408.2,513.29 408.2,504.86 412.55,504.86 412.55,513.29 416.9,513.29 416.9,504.86 421.25,504.86 421.25,513.29 425.6,513.29 425.6,504.86 429.95,504.86 429.95,513.29 434.3,513.29 434.3,504.86 438.65,504.86 438.65,513.29 443,513.29 443,504.86 447.35,504.86 447.35,513.29 451.7,513.29 451.7,504.86 456.05,504.86 456.05,513.29 460.4,513.29 460.4,504.86 464.75,504.86 464.75,513.29 469.1,513.29 469.1,504.86 473.45,504.86 473.45,513.29 477.8,513.29 477.8,504.86 482.15,504.86 482.15,513.29 486.5,513.29 486.5,504.86 490.85,504.86 490.85,513.29 495.5,513.29" fill="none" stroke="#e838e0" stroke-width="1.35" stroke-linejoin="miter"/>
<polyline points="402.7,530.16 408.2,530.16 408.2,521.73 412.55,521.73 412.55,530.16 416.9,530.16 416.9,521.73 421.25,521.73 421.25,530.16 425.6,530.16 425.6,521.73 429.95,521.73 429.95,530.16 434.3,530.16 434.3,521.73 438.65,521.73 438.65,530.16 443,530.16 443,521.73 447.35,521.73 447.35,530.16 451.7,530.16 451.7,521.73 456.05,521.73 456.05,530.16 460.4,530.16 460.4,521.73 464.75,521.73 464.75,530.16 469.1,530.16 469.1,521.73 473.45,521.73 473.45,530.16 477.8,530.16 477.8,521.73 482.15,521.73 482.15,530.16 486.5,530.16 486.5,521.73 490.85,521.73 490.85,530.16 494.5,530.16" fill="none" stroke="#7832f0" stroke-width="1.35" stroke-linejoin="miter"/>
<polyline points="493.6,555.46 497.3,555.46 497.3,547.03 501.6,547.03 501.6,555.46 505.9,555.46 505.9,547.03 510.2,547.03 510.2,555.46 514.5,555.46 514.5,547.03 518.8,547.03 518.8,555.46 523.1,555.46 523.1,547.03 527.4,547.03 527.4,555.46 531.7,555.46 531.7,547.03 536,547.03 536,555.46 541.2,555.46" fill="none" stroke="#7a0606" stroke-width="1.35" stroke-linejoin="miter"/>
<text x="496.4" y="511.5" font-size="7.4" fill="#000" stroke="#000" stroke-width="0.28" textLength="41.8" lengthAdjust="spacingAndGlyphs">Threshold: 10</text>
<text x="426.4" y="542.4" font-size="7.4" fill="#000" stroke="#000" stroke-width="0.28" textLength="53.6" lengthAdjust="spacingAndGlyphs">10 excitations = 1</text>
<text x="406.9" y="557.4" font-size="7.4" fill="#000" stroke="#000" stroke-width="0.28" textLength="50.4" lengthAdjust="spacingAndGlyphs">Division: 15 ÷ 10</text>
<text x="517" y="565.8" font-size="7.8" fill="#000" stroke="#000" stroke-width="0.28" textLength="3.8" lengthAdjust="spacingAndGlyphs">5</text>
<text x="383.7" y="561.6" font-size="10.2" fill="#111" stroke="#111" stroke-width="0.2" font-weight="bold" text-anchor="middle" textLength="53.7" lengthAdjust="spacingAndGlyphs" transform="rotate(-90 383.7 561.6)">Current (pA)</text>
<text x="404" y="635.2" font-size="9.5" fill="#111" stroke="#111" stroke-width="0.2" font-weight="bold" textLength="135" lengthAdjust="spacingAndGlyphs">Quantity of optical excitations</text>
<rect x="215.3" y="323.1" width="140.8" height="114.4" fill="none" stroke="#111" stroke-width="1.3"/>
<text x="232.5" y="335.6" font-size="7.4" fill="#000" stroke="#000" stroke-width="0.28" textLength="57.7" lengthAdjust="spacingAndGlyphs">Optical excitations</text>
<polyline points="225.4,416.3 228.5,416.3 228.5,344.4 232.5,344.4 232.5,416.3 237,416.3 237,344.4 241,344.4 241,416.3 244.7,416.3" fill="none" stroke="#7832f0" stroke-width="1.2"/>
<polyline points="254.8,416.3 257.8,416.3 257.8,344.4 261.8,344.4 261.8,416.3 265,416.3" fill="none" stroke="#7832f0" stroke-width="1.2"/>
<line x1="241" y1="374.8" x2="257.8" y2="374.8" stroke="#7832f0" stroke-width="1"/>
<polyline points="275,416.3 278.5,416.3 278.5,344.4 282.5,344.4 282.5,416.3 287.2,416.3 287.2,344.4 291.2,344.4 291.2,416.3 294.3,416.3" fill="none" stroke="#ee1422" stroke-width="1.2"/>
<polyline points="304.8,416.3 308.5,416.3 308.5,344.4 312.5,344.4 312.5,416.3 315.6,416.3" fill="none" stroke="#ee1422" stroke-width="1.2"/>
<line x1="291.2" y1="374.8" x2="308.5" y2="374.8" stroke="#ee1422" stroke-width="1"/>
<text x="265.3" y="376.1" font-size="7.4" fill="#000" stroke="#000" stroke-width="0.28" textLength="10.7" lengthAdjust="spacingAndGlyphs">+ / -</text>
<text x="319.6" y="376.1" font-size="7.4" fill="#000" stroke="#000" stroke-width="0.28" textLength="29.4" lengthAdjust="spacingAndGlyphs">= Current</text>
<text x="243" y="427.8" font-size="7.4" fill="#000" stroke="#000" stroke-width="0.28" textLength="6.7" lengthAdjust="spacingAndGlyphs">m</text>
<text x="267" y="428.4" font-size="7.4" fill="#000" stroke="#000" stroke-width="0.28" textLength="12" lengthAdjust="spacingAndGlyphs">+ / -</text>
<text x="297.3" y="427.8" font-size="7.4" fill="#000" stroke="#000" stroke-width="0.28" textLength="4.1" lengthAdjust="spacingAndGlyphs">n</text>
<text x="319.6" y="427.4" font-size="7.4" fill="#000" stroke="#000" stroke-width="0.28" textLength="26.4" lengthAdjust="spacingAndGlyphs">= Result</text>
<text x="5.4" y="319.4" font-size="18" fill="#000" font-family='"Liberation Serif", serif' stroke="#000" stroke-width="0.15">g</text>
<text x="193.8" y="319.6" font-size="20" fill="#000" font-family='"Liberation Serif", serif' stroke="#000" stroke-width="0.15">h</text>
<text x="378.6" y="320" font-size="20" fill="#000" font-family='"Liberation Serif", serif' stroke="#000" stroke-width="0.15">i</text>
<text x="4.1" y="489.2" font-size="20" fill="#000" font-family='"Liberation Serif", serif' stroke="#000" stroke-width="0.15">j</text>
<text x="191.7" y="489.6" font-size="20" fill="#000" font-family='"Liberation Serif", serif' stroke="#000" stroke-width="0.15">k</text>
<text x="377" y="489.6" font-size="20" fill="#000" font-family='"Liberation Serif", serif' stroke="#000" stroke-width="0.15">l</text>
<defs>
<linearGradient id="rainbow" x1="0" y1="0" x2="1" y2="0">
 <stop offset="0" stop-color="#ec4a92"/>
 <stop offset="0.15" stop-color="#ea2a72"/>
 <stop offset="0.22" stop-color="#ee3040"/>
 <stop offset="0.27" stop-color="#f69028"/>
 <stop offset="0.30" stop-color="#f4dc2c"/>
 <stop offset="0.35" stop-color="#7ccc40"/>
 <stop offset="0.39" stop-color="#34c07a"/>
 <stop offset="0.44" stop-color="#2ea0d8"/>
 <stop offset="0.52" stop-color="#3a5ce0"/>
 <stop offset="0.66" stop-color="#6a34d8"/>
 <stop offset="0.82" stop-color="#8c30c0"/>
 <stop offset="1" stop-color="#a036b0"/>
</linearGradient>
<linearGradient id="bgA" x1="0" y1="0" x2="0" y2="1">
 <stop offset="0" stop-color="#fdfdfd"/>
 <stop offset="0.7" stop-color="#f8f8f8"/>
 <stop offset="1" stop-color="#f0f0f0"/>
</linearGradient>
<linearGradient id="elFront" x1="0" y1="0" x2="1" y2="0">
 <stop offset="0" stop-color="#9a9a9a"/>
 <stop offset="1" stop-color="#7e7e7e"/>
</linearGradient>
<linearGradient id="elSide" x1="0" y1="0" x2="1" y2="0">
 <stop offset="0" stop-color="#6e6e6e"/>
 <stop offset="1" stop-color="#9a9a9a"/>
</linearGradient>
<linearGradient id="siFront" x1="0" y1="0" x2="0" y2="1">
 <stop offset="0" stop-color="#3038aa"/>
 <stop offset="1" stop-color="#283098"/>
</linearGradient>
<linearGradient id="olive" x1="0" y1="0" x2="1" y2="0">
 <stop offset="0" stop-color="#c2ba6c"/>
 <stop offset="0.5" stop-color="#dcd696"/>
 <stop offset="1" stop-color="#b6ac62"/>
</linearGradient>
<linearGradient id="oliveH" x1="0" y1="0" x2="1" y2="1">
 <stop offset="0" stop-color="#d6d08e"/>
 <stop offset="0.5" stop-color="#c4bc74"/>
 <stop offset="1" stop-color="#aaa05a"/>
</linearGradient>
<pattern id="grid" width="1.6" height="1.6" patternUnits="userSpaceOnUse">
 <rect width="1.6" height="1.6" fill="#94b4e4"/>
 <path d="M0 0H1.6M0 0V1.6" stroke="#6c8cc8" stroke-width="0.5"/>
</pattern>
<pattern id="crys" width="3.0" height="3.0" patternUnits="userSpaceOnUse" patternTransform="rotate(-35)">
 <rect width="3.0" height="3.0" fill="#b448b8"/>
 <rect width="1.1" height="3.0" fill="#e070d8"/>
 <circle cx="2.2" cy="1.5" r="0.7" fill="#6a1a80"/>
</pattern>
<pattern id="stripes" width="2.8" height="2.8" patternUnits="userSpaceOnUse" patternTransform="rotate(-40)">
 <rect width="2.8" height="2.8" fill="#a84cae"/>
 <rect width="1.0" height="2.8" fill="#e8a83c"/>
</pattern>
</defs>
<text x="27.2" y="17.4" font-size="20" fill="#000" font-family='"Liberation Serif", serif' stroke="#000" stroke-width="0.15">a</text>
<rect x="27" y="37" width="143" height="74" fill="url(#bgA)"/>
<path d="M64.9 28.2 L71.2 19.4 Q72.3 18.0 74 18.0 L130.5 18.0 Q132.2 18.0 133.3 19.4 L141.8 28.2 Z" fill="url(#rainbow)" stroke="none" stroke-width="1"/>
<path d="M68 27 L73 26.6 Q76 26.2 77.2 22 L78 19.6 L79 22 Q80.2 26.2 83.5 26.6 L86 26.8" fill="none" stroke="#fff" stroke-width="0.6"/>
<path d="M117 23.2 L122.5 23.2 Q124.6 23.3 125.3 26 L126 27.2 L126.8 26 Q127.6 23.3 129.7 23.2 L133 23.2" fill="none" stroke="#fff" stroke-width="0.6"/>
<text x="74.3" y="15.4" font-size="5.4" fill="#e0203a" font-weight="bold" textLength="9.8" lengthAdjust="spacingAndGlyphs">EPSC</text>
<text x="105" y="11.1" font-size="5.6" fill="#111" font-weight="bold" text-anchor="middle" textLength="26.2" lengthAdjust="spacingAndGlyphs">Pre-synapse</text>
<text x="105" y="17.5" font-size="5.6" fill="#222" font-weight="bold" text-anchor="middle" textLength="13.6" lengthAdjust="spacingAndGlyphs">(Light)</text>
<text x="123.2" y="18.3" font-size="5.2" fill="#8a30b4" font-weight="bold" textLength="9.2" lengthAdjust="spacingAndGlyphs">IPSC</text>
<text x="89.5" y="26.4" font-size="4.8" fill="#fff" textLength="27" lengthAdjust="spacingAndGlyphs">Weight change</text>
<text x="142.4" y="30.4" font-size="5.4" fill="#111" font-weight="bold" textLength="28.2" lengthAdjust="spacingAndGlyphs">Post-synapse</text>
<rect x="146.6" y="33.2" width="5.4" height="1.4" fill="#111"/>
<polyline points="48.8,31.4 72.4,31.6 73.6,30.2 75,33 76.4,30.2 77.8,33 79.2,30.2 80.6,33 82,30.2 83.4,31.9 117.4,32.9 118.6,31.5 120,34.3 121.4,31.5 122.8,34.3 124.2,31.5 125.6,34.3 127,31.5 128.2,33.2 160.5,34" fill="none" stroke="#555" stroke-width="0.65"/>
<path d="M157.5 32.4 L160.8 34.0 L157.6 35.6" fill="none" stroke="#555" stroke-width="0.65"/>
<path d="M33 95 L146 108.5 L160 92 L166 92 L166 110 L30 110 Z" fill="#ececec" stroke="none" stroke-width="1" opacity="0.9"/>
<path d="M35.2 77.7 L144.4 91.4 L144.4 106.0 L35.8 93.2 Z" fill="url(#siFront)" stroke="none" stroke-width="1"/>
<path d="M144.4 91.4 L156.5 74.8 L156.5 88.2 L144.4 106.0 Z" fill="#1e2680" stroke="none" stroke-width="1"/>
<path d="M34.6 72.6 L144.4 86.9 L156.5 70.6 L60 57.5 Z" fill="#f3d2ef" stroke="none" stroke-width="1"/>
<path d="M34.6 72.6 L144.4 86.9 L144.4 91.4 L35.2 77.7 Z" fill="#ecbfe8" stroke="none" stroke-width="1"/>
<path d="M144.4 86.9 L156.5 70.6 L156.5 74.8 L144.4 91.4 Z" fill="#dcaad8" stroke="none" stroke-width="1"/>
<path d="M96 66 L130.5 69.5 L130.5 81.5 L104 78.4 L96 73.5 Z" fill="url(#grid)" stroke="none" stroke-width="1"/>
<path d="M98.4 73.6 L110 64 L110 62 L98.4 70.5 Z" fill="#c8a8d8" stroke="none" stroke-width="1" opacity="0.6"/>
<path d="M41.1 47 H56.4 V72 H41.1 Z" fill="url(#elFront)" stroke="none" stroke-width="1"/>
<path d="M56.4 47 L68 39.4 L68 64.4 L56.4 72 Z" fill="url(#elSide)" stroke="none" stroke-width="1"/>
<path d="M41.1 47 L56.4 47 L68 39.4 L52.7 39.4 Z" fill="#f8f6ea" stroke="none" stroke-width="1"/>
<path d="M56.4 56 L84.6 56 L84.6 71.8 L56.4 71.8 Z" fill="url(#crys)" stroke="none" stroke-width="1"/>
<path d="M56.4 56 L84.6 56 L96 47.6 L67.8 47.6 Z" fill="url(#stripes)" stroke="none" stroke-width="1"/>
<path d="M56.4 56 L67.8 47.6" fill="none" stroke="#d8d060" stroke-width="0.8"/>
<path d="M84.6 53 H98.4 V73.6 H84.6 Z" fill="url(#elFront)" stroke="none" stroke-width="1"/>
<path d="M98.4 53 L110 44.4 L110 65 L98.4 73.6 Z" fill="url(#elSide)" stroke="none" stroke-width="1"/>
<path d="M84.6 53 L98.4 53 L110 44.4 L96.2 44.4 Z" fill="#f8f6ea" stroke="none" stroke-width="1"/>
<path d="M130.4 57.6 H145 V81.2 H130.4 Z" fill="url(#elFront)" stroke="none" stroke-width="1"/>
<path d="M145 57.6 L154.2 50 L154.2 73.6 L145 81.2 Z" fill="url(#elSide)" stroke="none" stroke-width="1"/>
<path d="M130.4 57.6 L145 57.6 L154.2 50 L139.6 50 Z" fill="#f8f6ea" stroke="none" stroke-width="1"/>
<text x="71" y="42.4" font-size="6.2" fill="#111" font-weight="bold" textLength="5.2" lengthAdjust="spacingAndGlyphs">Bi</text>
<text x="76.3" y="43.6" font-size="3.8" fill="#111" font-weight="bold">2</text>
<text x="78.6" y="42.4" font-size="6.2" fill="#111" font-weight="bold" textLength="4.4" lengthAdjust="spacingAndGlyphs">O</text>
<text x="83.1" y="43.6" font-size="3.8" fill="#111" font-weight="bold">2</text>
<text x="85.2" y="42.4" font-size="6.2" fill="#111" font-weight="bold" textLength="5" lengthAdjust="spacingAndGlyphs">Se</text>
<line x1="76" y1="44.6" x2="76" y2="47.6" stroke="#111" stroke-width="0.8"/>
<text x="113" y="47.4" font-size="6.2" fill="#111" font-weight="bold" textLength="24.6" lengthAdjust="spacingAndGlyphs">Graphene</text>
<line x1="123.8" y1="52.2" x2="120.3" y2="69" stroke="#111" stroke-width="0.8"/>
<circle cx="123.9" cy="52.2" r="0.9" fill="#111"/>
<text x="82.4" y="83.4" font-size="6.2" fill="#222" font-weight="bold" textLength="9.2" lengthAdjust="spacingAndGlyphs">SiO</text>
<text x="91.6" y="84.6" font-size="3.8" fill="#222" font-weight="bold">2</text>
<text x="123.8" y="100.6" font-size="5.6" fill="#dde" font-weight="bold" textLength="4.6" lengthAdjust="spacingAndGlyphs">Si</text>
<path d="M168.2 64.8 L172.6 60.6 L172.6 63.2 L178.6 63.2 L178.6 60.6 L183 64.8 L178.6 69 L178.6 66.4 L172.6 66.4 L172.6 69 Z" fill="#111" stroke="none" stroke-width="1"/>
<text x="202.5" y="24.8" font-size="6" fill="#222" font-weight="bold" text-anchor="middle" textLength="31.8" lengthAdjust="spacingAndGlyphs">Pre-synaptic</text>
<text x="202.5" y="32" font-size="6" fill="#222" font-weight="bold" text-anchor="middle" textLength="17.4" lengthAdjust="spacingAndGlyphs">neuron</text>
<rect x="200.9" y="35.2" width="4.9" height="11.5" fill="url(#olive)"/>
<path d="M200.9 45.0 C196.2 46.0 193.4 50.0 193.4 55.4 Q203.3 57.8 213.2 55.4 C213.2 50.0 210.4 46.0 205.8 45.0 Z" fill="url(#oliveH)" stroke="none" stroke-width="1"/>
<path d="M193.4 70.6 Q203.3 68.6 213.2 70.6 C213.2 76.2 210.6 80.4 205.8 82.2 L200.9 82.2 C196.0 80.4 193.4 76.2 193.4 70.6 Z" fill="url(#oliveH)" stroke="none" stroke-width="1"/>
<rect x="200.9" y="81.6" width="4.9" height="9.6" fill="url(#olive)"/>
<circle cx="203.9" cy="60.4" r="1.45" fill="#c440a8"/>
<circle cx="200.4" cy="64.5" r="1.45" fill="#c440a8"/>
<circle cx="208.3" cy="67.3" r="1.45" fill="#c440a8"/>
<text x="202.5" y="100" font-size="6" fill="#222" font-weight="bold" text-anchor="middle" textLength="34.2" lengthAdjust="spacingAndGlyphs">Post-synaptic</text>
<text x="202.5" y="107.3" font-size="6" fill="#222" font-weight="bold" text-anchor="middle" textLength="17.4" lengthAdjust="spacingAndGlyphs">neuron</text>
<text x="257.1" y="17.7" font-size="20" fill="#000" font-family='"Liberation Serif", serif' stroke="#000" stroke-width="0.15">b</text>
<rect x="284.5" y="14.5" width="97.9" height="27" fill="#fff" stroke="#555" stroke-width="1"/>
<polyline points="284.5,39.6 321.2,39.6 321.2,23 323.5,23 323.5,39.6 326.4,39.6 326.4,23 328.9,23 328.9,39.6 382.4,39.6" fill="none" stroke="#ea6c6c" stroke-width="0.9"/>
<text x="337.6" y="31.3" font-size="8.4" fill="#d8343c" font-weight="bold" textLength="38.2" lengthAdjust="spacingAndGlyphs">Δt=200 ms</text>
<rect x="284.2" y="41.5" width="98.2" height="57.1" fill="none" stroke="#222" stroke-width="1.1"/>
<line x1="284.2" y1="46.5" x2="286" y2="46.5" stroke="#222" stroke-width="0.8"/>
<line x1="382.4" y1="46.5" x2="380.6" y2="46.5" stroke="#222" stroke-width="0.8"/>
<text x="282.2" y="48.3" font-size="5" fill="#333" font-weight="bold" text-anchor="end" textLength="10.4" lengthAdjust="spacingAndGlyphs">1.3μ</text>
<line x1="284.2" y1="56.98" x2="286" y2="56.98" stroke="#222" stroke-width="0.8"/>
<line x1="382.4" y1="56.98" x2="380.6" y2="56.98" stroke="#222" stroke-width="0.8"/>
<text x="282.2" y="58.78" font-size="5" fill="#333" font-weight="bold" text-anchor="end" textLength="10.4" lengthAdjust="spacingAndGlyphs">1.2μ</text>
<line x1="284.2" y1="67.46" x2="286" y2="67.46" stroke="#222" stroke-width="0.8"/>
<line x1="382.4" y1="67.46" x2="380.6" y2="67.46" stroke="#222" stroke-width="0.8"/>
<text x="282.2" y="69.26" font-size="5" fill="#333" font-weight="bold" text-anchor="end" textLength="10.4" lengthAdjust="spacingAndGlyphs">1.1μ</text>
<line x1="284.2" y1="77.94" x2="286" y2="77.94" stroke="#222" stroke-width="0.8"/>
<line x1="382.4" y1="77.94" x2="380.6" y2="77.94" stroke="#222" stroke-width="0.8"/>
<text x="282.2" y="79.74" font-size="5" fill="#333" font-weight="bold" text-anchor="end" textLength="10.4" lengthAdjust="spacingAndGlyphs">1.0μ</text>
<line x1="284.2" y1="88.42" x2="286" y2="88.42" stroke="#222" stroke-width="0.8"/>
<line x1="382.4" y1="88.42" x2="380.6" y2="88.42" stroke="#222" stroke-width="0.8"/>
<text x="282.2" y="90.22" font-size="5" fill="#333" font-weight="bold" text-anchor="end" textLength="15.6" lengthAdjust="spacingAndGlyphs">900.0n</text>
<line x1="284.2" y1="98.9" x2="286" y2="98.9" stroke="#222" stroke-width="0.8"/>
<line x1="382.4" y1="98.9" x2="380.6" y2="98.9" stroke="#222" stroke-width="0.8"/>
<text x="282.2" y="100.7" font-size="5" fill="#333" font-weight="bold" text-anchor="end" textLength="15.6" lengthAdjust="spacingAndGlyphs">800.0n</text>
<line x1="284.2" y1="98.6" x2="284.2" y2="96.8" stroke="#222" stroke-width="0.8"/>
<line x1="284.2" y1="41.5" x2="284.2" y2="43.3" stroke="#222" stroke-width="0.8"/>
<text x="284.2" y="105.4" font-size="5.6" fill="#333" font-weight="bold" text-anchor="middle">0</text>
<line x1="300.55" y1="98.6" x2="300.55" y2="96.8" stroke="#222" stroke-width="0.8"/>
<line x1="300.55" y1="41.5" x2="300.55" y2="43.3" stroke="#222" stroke-width="0.8"/>
<text x="300.55" y="105.4" font-size="5.6" fill="#333" font-weight="bold" text-anchor="middle">1</text>
<line x1="316.9" y1="98.6" x2="316.9" y2="96.8" stroke="#222" stroke-width="0.8"/>
<line x1="316.9" y1="41.5" x2="316.9" y2="43.3" stroke="#222" stroke-width="0.8"/>
<text x="316.9" y="105.4" font-size="5.6" fill="#333" font-weight="bold" text-anchor="middle">2</text>
<line x1="333.25" y1="98.6" x2="333.25" y2="96.8" stroke="#222" stroke-width="0.8"/>
<line x1="333.25" y1="41.5" x2="333.25" y2="43.3" stroke="#222" stroke-width="0.8"/>
<text x="333.25" y="105.4" font-size="5.6" fill="#333" font-weight="bold" text-anchor="middle">3</text>
<line x1="349.6" y1="98.6" x2="349.6" y2="96.8" stroke="#222" stroke-width="0.8"/>
<line x1="349.6" y1="41.5" x2="349.6" y2="43.3" stroke="#222" stroke-width="0.8"/>
<text x="349.6" y="105.4" font-size="5.6" fill="#333" font-weight="bold" text-anchor="middle">4</text>
<line x1="365.95" y1="98.6" x2="365.95" y2="96.8" stroke="#222" stroke-width="0.8"/>
<line x1="365.95" y1="41.5" x2="365.95" y2="43.3" stroke="#222" stroke-width="0.8"/>
<text x="365.95" y="105.4" font-size="5.6" fill="#333" font-weight="bold" text-anchor="middle">5</text>
<line x1="382.3" y1="98.6" x2="382.3" y2="96.8" stroke="#222" stroke-width="0.8"/>
<line x1="382.3" y1="41.5" x2="382.3" y2="43.3" stroke="#222" stroke-width="0.8"/>
<text x="382.3" y="105.4" font-size="5.6" fill="#333" font-weight="bold" text-anchor="middle">6</text>
<text x="321" y="112.3" font-size="6.8" fill="#222" font-weight="bold" textLength="25.5" lengthAdjust="spacingAndGlyphs">Time (s)</text>
<text x="266.2" y="67.6" font-size="6.4" fill="#222" font-weight="bold" text-anchor="middle" textLength="27.7" lengthAdjust="spacingAndGlyphs" transform="rotate(-90 266.2 67.6)">EPSC (A)</text>
<polyline points="284.6,92.7 296,92.5 306,92.2 314,91.7 319,91.1 321.2,90.4 322,76 322.7,62 323.3,54.6 324,60 325,68 326,73.5 326.8,75.4 327.3,65 327.8,52 328.1,48.8 329,56 330.5,64.5 332.5,71.5 335.5,77 340,80.5 344.3,82.2 350,83.8 356,84.9 363,85.7 370.5,86.3 376,86.6 382,86.8" fill="none" stroke="#ea6c6c" stroke-width="1.3" stroke-linejoin="round"/>
<line x1="320" y1="54.3" x2="320" y2="89.6" stroke="#4a4cb8" stroke-width="0.9"/>
<path d="M318.8 55.7 L320 53.3 L321.2 55.7 Z" fill="#4a4cb8" stroke="none" stroke-width="1"/>
<path d="M318.8 88.2 L320 90.6 L321.2 88.2 Z" fill="#4a4cb8" stroke="none" stroke-width="1"/>
<line x1="337.3" y1="48.3" x2="337.3" y2="89.6" stroke="#4a4cb8" stroke-width="0.9"/>
<path d="M336.1 49.7 L337.3 47.3 L338.5 49.7 Z" fill="#4a4cb8" stroke="none" stroke-width="1"/>
<path d="M336.1 88.2 L337.3 90.6 L338.5 88.2 Z" fill="#4a4cb8" stroke="none" stroke-width="1"/>
<line x1="328.2" y1="47.3" x2="337.3" y2="47.3" stroke="#4a4cb8" stroke-width="0.9" stroke-dasharray="1.6 1.4"/>
<line x1="320" y1="90.6" x2="337.3" y2="90.6" stroke="#4a4cb8" stroke-width="0.9" stroke-dasharray="1.6 1.4"/>
<text x="310.4" y="70.2" font-size="7.2" fill="#4a4cb8" font-weight="bold">A</text>
<text x="315.2" y="71.6" font-size="4.2" fill="#4a4cb8" font-weight="bold">1</text>
<text x="339.6" y="68.1" font-size="7.2" fill="#4a4cb8" font-weight="bold">A</text>
<text x="344.4" y="69.5" font-size="4.2" fill="#4a4cb8" font-weight="bold">2</text>
<line x1="344" y1="50.9" x2="353.5" y2="50.9" stroke="#ea6c6c" stroke-width="1.5"/>
<text x="355.5" y="53.4" font-size="6.8" fill="#222" font-weight="bold" textLength="22.9" lengthAdjust="spacingAndGlyphs">635 nm</text>
<text x="404" y="17.6" font-size="20" fill="#000" font-family='"Liberation Serif", serif' stroke="#000" stroke-width="0.15">c</text>
<rect x="418.3" y="13.8" width="98.3" height="27.5" fill="#fff" stroke="#555" stroke-width="1"/>
<polyline points="418.3,39.4 455.4,39.4 455.4,21.8 457.5,21.8 457.5,39.4 460.2,39.4 460.2,21.8 462.6,21.8 462.6,39.4 516.6,39.4" fill="none" stroke="#c48ad0" stroke-width="0.9"/>
<text x="472.6" y="29.9" font-size="8.4" fill="#7a3aa0" font-weight="bold" textLength="38.1" lengthAdjust="spacingAndGlyphs">Δt=200 ms</text>
<rect x="418.3" y="41.5" width="98.3" height="56.7" fill="none" stroke="#222" stroke-width="1.1"/>
<line x1="418.3" y1="47.2" x2="420.1" y2="47.2" stroke="#222" stroke-width="0.8"/>
<line x1="516.6" y1="47.2" x2="514.8" y2="47.2" stroke="#222" stroke-width="0.8"/>
<text x="416.4" y="49" font-size="5" fill="#333" font-weight="bold" text-anchor="end" textLength="11.2" lengthAdjust="spacingAndGlyphs">840n</text>
<line x1="418.3" y1="60.73" x2="420.1" y2="60.73" stroke="#222" stroke-width="0.8"/>
<line x1="516.6" y1="60.73" x2="514.8" y2="60.73" stroke="#222" stroke-width="0.8"/>
<text x="416.4" y="62.53" font-size="5" fill="#333" font-weight="bold" text-anchor="end" textLength="11.2" lengthAdjust="spacingAndGlyphs">820n</text>
<line x1="418.3" y1="74.27" x2="420.1" y2="74.27" stroke="#222" stroke-width="0.8"/>
<line x1="516.6" y1="74.27" x2="514.8" y2="74.27" stroke="#222" stroke-width="0.8"/>
<text x="416.4" y="76.07" font-size="5" fill="#333" font-weight="bold" text-anchor="end" textLength="11.2" lengthAdjust="spacingAndGlyphs">800n</text>
<line x1="418.3" y1="87.8" x2="420.1" y2="87.8" stroke="#222" stroke-width="0.8"/>
<line x1="516.6" y1="87.8" x2="514.8" y2="87.8" stroke="#222" stroke-width="0.8"/>
<text x="416.4" y="89.6" font-size="5" fill="#333" font-weight="bold" text-anchor="end" textLength="11.2" lengthAdjust="spacingAndGlyphs">780n</text>
<line x1="418.3" y1="98.2" x2="418.3" y2="96.4" stroke="#222" stroke-width="0.8"/>
<line x1="418.3" y1="41.5" x2="418.3" y2="43.3" stroke="#222" stroke-width="0.8"/>
<text x="418.3" y="105" font-size="5.6" fill="#333" font-weight="bold" text-anchor="middle">0</text>
<line x1="434.68" y1="98.2" x2="434.68" y2="96.4" stroke="#222" stroke-width="0.8"/>
<line x1="434.68" y1="41.5" x2="434.68" y2="43.3" stroke="#222" stroke-width="0.8"/>
<text x="434.68" y="105" font-size="5.6" fill="#333" font-weight="bold" text-anchor="middle">1</text>
<line x1="451.06" y1="98.2" x2="451.06" y2="96.4" stroke="#222" stroke-width="0.8"/>
<line x1="451.06" y1="41.5" x2="451.06" y2="43.3" stroke="#222" stroke-width="0.8"/>
<text x="451.06" y="105" font-size="5.6" fill="#333" font-weight="bold" text-anchor="middle">2</text>
<line x1="467.44" y1="98.2" x2="467.44" y2="96.4" stroke="#222" stroke-width="0.8"/>
<line x1="467.44" y1="41.5" x2="467.44" y2="43.3" stroke="#222" stroke-width="0.8"/>
<text x="467.44" y="105" font-size="5.6" fill="#333" font-weight="bold" text-anchor="middle">3</text>
<line x1="483.82" y1="98.2" x2="483.82" y2="96.4" stroke="#222" stroke-width="0.8"/>
<line x1="483.82" y1="41.5" x2="483.82" y2="43.3" stroke="#222" stroke-width="0.8"/>
<text x="483.82" y="105" font-size="5.6" fill="#333" font-weight="bold" text-anchor="middle">4</text>
<line x1="500.2" y1="98.2" x2="500.2" y2="96.4" stroke="#222" stroke-width="0.8"/>
<line x1="500.2" y1="41.5" x2="500.2" y2="43.3" stroke="#222" stroke-width="0.8"/>
<text x="500.2" y="105" font-size="5.6" fill="#333" font-weight="bold" text-anchor="middle">5</text>
<line x1="516.58" y1="98.2" x2="516.58" y2="96.4" stroke="#222" stroke-width="0.8"/>
<line x1="516.58" y1="41.5" x2="516.58" y2="43.3" stroke="#222" stroke-width="0.8"/>
<text x="516.58" y="105" font-size="5.6" fill="#333" font-weight="bold" text-anchor="middle">6</text>
<text x="456" y="113.3" font-size="6.8" fill="#222" font-weight="bold" textLength="24.4" lengthAdjust="spacingAndGlyphs">Time (s)</text>
<text x="399.8" y="68" font-size="6.4" fill="#222" font-weight="bold" text-anchor="middle" textLength="27.4" lengthAdjust="spacingAndGlyphs" transform="rotate(-90 399.8 68)">IPSC (A)</text>
<polyline points="418.6,46.4 440,46.4 448.8,46.6 450.2,47.6 451.2,48.8 452.2,53 453.2,63 453.9,70 454.6,71.2 457.3,71.3 458.2,74 459,78 460.5,85.5 462.2,91.8 466,90.2 470,88.6 474.5,87.2 479.5,85.8 484.7,84.4 490,83.2 495,82.2 500.5,81.4 506.5,80.7 511,80.1 516.2,79.3" fill="none" stroke="#8a3aa6" stroke-width="1.7" stroke-linejoin="round"/>
<line x1="445.6" y1="48" x2="445.6" y2="70.4" stroke="#34b466" stroke-width="0.9"/>
<path d="M444.4 49.4 L445.6 47 L446.8 49.4 Z" fill="#34b466" stroke="none" stroke-width="1"/>
<path d="M444.4 69 L445.6 71.4 L446.8 69 Z" fill="#34b466" stroke="none" stroke-width="1"/>
<line x1="462.2" y1="48" x2="462.2" y2="90.8" stroke="#34b466" stroke-width="0.9"/>
<path d="M461 49.4 L462.2 47 L463.4 49.4 Z" fill="#34b466" stroke="none" stroke-width="1"/>
<path d="M461 89.4 L462.2 91.8 L463.4 89.4 Z" fill="#34b466" stroke="none" stroke-width="1"/>
<line x1="445.6" y1="47" x2="462.2" y2="47" stroke="#34b466" stroke-width="0.8" stroke-dasharray="1.5 1.4"/>
<line x1="445.6" y1="71.4" x2="455.5" y2="71.4" stroke="#34b466" stroke-width="0.8" stroke-dasharray="1.5 1.4"/>
<line x1="456.5" y1="91.8" x2="462.2" y2="91.8" stroke="#34b466" stroke-width="0.8" stroke-dasharray="1.5 1.4"/>
<text x="434.8" y="62.8" font-size="7.2" fill="#34b466" font-weight="bold">A</text>
<text x="439.6" y="64.2" font-size="4.2" fill="#34b466" font-weight="bold">1</text>
<text x="465.6" y="64.2" font-size="7.2" fill="#34b466" font-weight="bold">A</text>
<text x="470.4" y="65.6" font-size="4.2" fill="#34b466" font-weight="bold">2</text>
<line x1="478" y1="50.2" x2="488.2" y2="50.2" stroke="#8a3aa6" stroke-width="1.6"/>
<text x="489" y="52.7" font-size="6.8" fill="#222" font-weight="bold" textLength="23" lengthAdjust="spacingAndGlyphs">365 nm</text>
<text x="51.4" y="139.8" font-size="20" fill="#000" font-family='"Liberation Serif", serif' stroke="#000" stroke-width="0.15">d</text>
<text x="84" y="149.6" font-size="6.4" fill="#e03034" font-weight="bold" textLength="48.4" lengthAdjust="spacingAndGlyphs">Input 1: 635 nm</text>
<text x="84" y="182.5" font-size="6.4" fill="#2aa85a" font-weight="bold" textLength="48.2" lengthAdjust="spacingAndGlyphs">Input 2: 525 nm</text>
<polyline points="86.2,161 88.4,161 88.4,156.4 90.6,156.4 90.6,161 92.8,161" fill="none" stroke="#e03034" stroke-width="0.8"/>
<polyline points="86.2,176 88.4,176 88.4,171.4 90.6,171.4 90.6,176 92.8,176" fill="none" stroke="#2aa85a" stroke-width="0.8"/>
<polyline points="175.8,130.6 178,130.6 178,126.6 180.2,126.6 180.2,130.6 181.6,130.6" fill="none" stroke="#7a3aa6" stroke-width="0.8"/>
<polyline points="222,159.8 224.2,159.8 224.2,155.8 226.4,155.8 226.4,159.8 228.8,159.8" fill="none" stroke="#111" stroke-width="0.8"/>
<path d="M98 158.2 H122.2 V156.4 L126.4 159.4 L122.2 162.4 V160.6 H98 Z" fill="#e02a30" stroke="none" stroke-width="1"/>
<path d="M98 172.8 H122.2 V171 L126.4 174 L122.2 177 V175.2 H98 Z" fill="#26a856" stroke="none" stroke-width="1"/>
<path d="M212 166.2 H236.4 V164.5 L241 167.3 L236.4 170.1 V168.4 H212 Z" fill="#111" stroke="none" stroke-width="1"/>
<rect x="130.2" y="158.2" width="21" height="3.2" fill="url(#oliveH)"/>
<rect x="130.2" y="172.5" width="21" height="3.2" fill="url(#oliveH)"/>
<path d="M150.0 158.0 C151.6 154.6 155.0 153.0 160.4 153.0 Q161.2 159.7 160.4 166.4 C155.0 166.4 151.6 164.8 150.0 161.4 Z" fill="url(#oliveH)" stroke="none" stroke-width="1"/>
<path d="M150.0 172.3 C151.6 168.9 155.0 167.3 160.4 167.3 Q161.2 174.0 160.4 180.7 C155.0 180.7 151.6 179.1 150.0 175.7 Z" fill="url(#oliveH)" stroke="none" stroke-width="1"/>
<path d="M177.6 157.2 Q182 162.5 186.8 165.9 L207.8 165.9 L207.8 168.7 L186.8 168.7 Q182 172 177.6 177.0 Q176.2 167.1 177.6 157.2 Z" fill="url(#oliveH)" stroke="none" stroke-width="1"/>
<path d="M166.8 138.0 L170.4 138.0 L170.8 142.6 Q175.8 145.2 175.8 151.8 L161.0 151.8 Q161.0 145.2 166.4 142.6 Z" fill="#2a32a8" stroke="none" stroke-width="1"/>
<path d="M166.8 138.0 L170.4 138.0 L170.6 140 L166.6 140 Z" fill="#3a42c0" stroke="none" stroke-width="1"/>
<path d="M166.6 124.6 H170.4 V128.6 H172.6 L168.5 133.2 L164.4 128.6 H166.6 Z" fill="#8040b0" stroke="none" stroke-width="1"/>
<text x="179.8" y="139" font-size="6.4" fill="#7a3aa6" font-weight="bold" textLength="56.2" lengthAdjust="spacingAndGlyphs">Modulatory input:</text>
<text x="179.8" y="145.6" font-size="6.4" fill="#7a3aa6" font-weight="bold" textLength="22" lengthAdjust="spacingAndGlyphs">365 nm</text>
<circle cx="164.3" cy="160.6" r="1.3" fill="#a8328a"/>
<circle cx="171.4" cy="160.1" r="1.3" fill="#a8328a"/>
<circle cx="174.9" cy="158.5" r="1.3" fill="#a8328a"/>
<circle cx="169.5" cy="163.9" r="1.3" fill="#a8328a"/>
<circle cx="170" cy="171.3" r="1.3" fill="#a8328a"/>
<circle cx="162.9" cy="174" r="1.3" fill="#a8328a"/>
<circle cx="167.5" cy="175.9" r="1.3" fill="#a8328a"/>
<circle cx="173.5" cy="174.8" r="1.3" fill="#a8328a"/>
<text x="214.8" y="178" font-size="6.6" fill="#111" font-weight="bold" textLength="22.5" lengthAdjust="spacingAndGlyphs">Output</text>
<text x="254.1" y="139.8" font-size="20" fill="#000" font-family='"Liberation Serif", serif' stroke="#000" stroke-width="0.15">e</text>
<rect x="287.3" y="207.8" width="129.3" height="68.6" fill="#faf1b8"/>
<rect x="416.6" y="207.8" width="45.1" height="68.6" fill="#c0e5f7"/>
<rect x="287.3" y="139.6" width="174.4" height="136.8" fill="none" stroke="#333" stroke-width="1"/>
<line x1="287.3" y1="163.1" x2="461.7" y2="163.1" stroke="#333" stroke-width="1"/>
<line x1="287.3" y1="186" x2="461.7" y2="186" stroke="#333" stroke-width="1"/>
<line x1="287.3" y1="207.8" x2="461.7" y2="207.8" stroke="#333" stroke-width="1"/>
<line x1="287.3" y1="139.6" x2="287.3" y2="141.2" stroke="#333" stroke-width="0.7"/>
<line x1="287.3" y1="139.6" x2="287.3" y2="138" stroke="#333" stroke-width="0.7"/>
<line x1="287.3" y1="163.1" x2="287.3" y2="164.7" stroke="#333" stroke-width="0.7"/>
<line x1="287.3" y1="163.1" x2="287.3" y2="161.5" stroke="#333" stroke-width="0.7"/>
<line x1="287.3" y1="186" x2="287.3" y2="187.6" stroke="#333" stroke-width="0.7"/>
<line x1="287.3" y1="186" x2="287.3" y2="184.4" stroke="#333" stroke-width="0.7"/>
<line x1="287.3" y1="207.8" x2="287.3" y2="209.4" stroke="#333" stroke-width="0.7"/>
<line x1="287.3" y1="207.8" x2="287.3" y2="206.2" stroke="#333" stroke-width="0.7"/>
<line x1="287.3" y1="276.4" x2="287.3" y2="274.6" stroke="#333" stroke-width="0.8"/>
<text x="287.3" y="284.8" font-size="6.4" fill="#222" font-weight="bold" text-anchor="middle" textLength="3.1" lengthAdjust="spacingAndGlyphs">0</text>
<line x1="319.08" y1="139.6" x2="319.08" y2="141.2" stroke="#333" stroke-width="0.7"/>
<line x1="319.08" y1="139.6" x2="319.08" y2="138" stroke="#333" stroke-width="0.7"/>
<line x1="319.08" y1="163.1" x2="319.08" y2="164.7" stroke="#333" stroke-width="0.7"/>
<line x1="319.08" y1="163.1" x2="319.08" y2="161.5" stroke="#333" stroke-width="0.7"/>
<line x1="319.08" y1="186" x2="319.08" y2="187.6" stroke="#333" stroke-width="0.7"/>
<line x1="319.08" y1="186" x2="319.08" y2="184.4" stroke="#333" stroke-width="0.7"/>
<line x1="319.08" y1="207.8" x2="319.08" y2="209.4" stroke="#333" stroke-width="0.7"/>
<line x1="319.08" y1="207.8" x2="319.08" y2="206.2" stroke="#333" stroke-width="0.7"/>
<line x1="319.08" y1="276.4" x2="319.08" y2="274.6" stroke="#333" stroke-width="0.8"/>
<text x="319.08" y="284.8" font-size="6.4" fill="#222" font-weight="bold" text-anchor="middle" textLength="9.3" lengthAdjust="spacingAndGlyphs">100</text>
<line x1="350.86" y1="139.6" x2="350.86" y2="141.2" stroke="#333" stroke-width="0.7"/>
<line x1="350.86" y1="139.6" x2="350.86" y2="138" stroke="#333" stroke-width="0.7"/>
<line x1="350.86" y1="163.1" x2="350.86" y2="164.7" stroke="#333" stroke-width="0.7"/>
<line x1="350.86" y1="163.1" x2="350.86" y2="161.5" stroke="#333" stroke-width="0.7"/>
<line x1="350.86" y1="186" x2="350.86" y2="187.6" stroke="#333" stroke-width="0.7"/>
<line x1="350.86" y1="186" x2="350.86" y2="184.4" stroke="#333" stroke-width="0.7"/>
<line x1="350.86" y1="207.8" x2="350.86" y2="209.4" stroke="#333" stroke-width="0.7"/>
<line x1="350.86" y1="207.8" x2="350.86" y2="206.2" stroke="#333" stroke-width="0.7"/>
<line x1="350.86" y1="276.4" x2="350.86" y2="274.6" stroke="#333" stroke-width="0.8"/>
<text x="350.86" y="284.8" font-size="6.4" fill="#222" font-weight="bold" text-anchor="middle" textLength="9.3" lengthAdjust="spacingAndGlyphs">200</text>
<line x1="382.64" y1="139.6" x2="382.64" y2="141.2" stroke="#333" stroke-width="0.7"/>
<line x1="382.64" y1="139.6" x2="382.64" y2="138" stroke="#333" stroke-width="0.7"/>
<line x1="382.64" y1="163.1" x2="382.64" y2="164.7" stroke="#333" stroke-width="0.7"/>
<line x1="382.64" y1="163.1" x2="382.64" y2="161.5" stroke="#333" stroke-width="0.7"/>
<line x1="382.64" y1="186" x2="382.64" y2="187.6" stroke="#333" stroke-width="0.7"/>
<line x1="382.64" y1="186" x2="382.64" y2="184.4" stroke="#333" stroke-width="0.7"/>
<line x1="382.64" y1="207.8" x2="382.64" y2="209.4" stroke="#333" stroke-width="0.7"/>
<line x1="382.64" y1="207.8" x2="382.64" y2="206.2" stroke="#333" stroke-width="0.7"/>
<line x1="382.64" y1="276.4" x2="382.64" y2="274.6" stroke="#333" stroke-width="0.8"/>
<text x="382.64" y="284.8" font-size="6.4" fill="#222" font-weight="bold" text-anchor="middle" textLength="9.3" lengthAdjust="spacingAndGlyphs">300</text>
<line x1="414.42" y1="139.6" x2="414.42" y2="141.2" stroke="#333" stroke-width="0.7"/>
<line x1="414.42" y1="139.6" x2="414.42" y2="138" stroke="#333" stroke-width="0.7"/>
<line x1="414.42" y1="163.1" x2="414.42" y2="164.7" stroke="#333" stroke-width="0.7"/>
<line x1="414.42" y1="163.1" x2="414.42" y2="161.5" stroke="#333" stroke-width="0.7"/>
<line x1="414.42" y1="186" x2="414.42" y2="187.6" stroke="#333" stroke-width="0.7"/>
<line x1="414.42" y1="186" x2="414.42" y2="184.4" stroke="#333" stroke-width="0.7"/>
<line x1="414.42" y1="207.8" x2="414.42" y2="209.4" stroke="#333" stroke-width="0.7"/>
<line x1="414.42" y1="207.8" x2="414.42" y2="206.2" stroke="#333" stroke-width="0.7"/>
<line x1="414.42" y1="276.4" x2="414.42" y2="274.6" stroke="#333" stroke-width="0.8"/>
<text x="414.42" y="284.8" font-size="6.4" fill="#222" font-weight="bold" text-anchor="middle" textLength="9.3" lengthAdjust="spacingAndGlyphs">400</text>
<line x1="446.2" y1="139.6" x2="446.2" y2="141.2" stroke="#333" stroke-width="0.7"/>
<line x1="446.2" y1="139.6" x2="446.2" y2="138" stroke="#333" stroke-width="0.7"/>
<line x1="446.2" y1="163.1" x2="446.2" y2="164.7" stroke="#333" stroke-width="0.7"/>
<line x1="446.2" y1="163.1" x2="446.2" y2="161.5" stroke="#333" stroke-width="0.7"/>
<line x1="446.2" y1="186" x2="446.2" y2="187.6" stroke="#333" stroke-width="0.7"/>
<line x1="446.2" y1="186" x2="446.2" y2="184.4" stroke="#333" stroke-width="0.7"/>
<line x1="446.2" y1="207.8" x2="446.2" y2="209.4" stroke="#333" stroke-width="0.7"/>
<line x1="446.2" y1="207.8" x2="446.2" y2="206.2" stroke="#333" stroke-width="0.7"/>
<line x1="446.2" y1="276.4" x2="446.2" y2="274.6" stroke="#333" stroke-width="0.8"/>
<text x="446.2" y="284.8" font-size="6.4" fill="#222" font-weight="bold" text-anchor="middle" textLength="9.3" lengthAdjust="spacingAndGlyphs">500</text>
<text x="362.8" y="292.4" font-size="7.4" fill="#222" stroke="#222" stroke-width="0.15" font-weight="bold" textLength="22.3" lengthAdjust="spacingAndGlyphs">Time (s)</text>
<text x="283.2" y="149.9" font-size="5.6" fill="#222" font-weight="bold" text-anchor="end">1</text>
<text x="283.2" y="162.4" font-size="5.6" fill="#222" font-weight="bold" text-anchor="end">0</text>
<line x1="287.3" y1="147.8" x2="288.8" y2="147.8" stroke="#333" stroke-width="0.7"/>
<line x1="287.3" y1="160.3" x2="288.8" y2="160.3" stroke="#333" stroke-width="0.7"/>
<line x1="461.7" y1="147.8" x2="460.2" y2="147.8" stroke="#333" stroke-width="0.7"/>
<line x1="461.7" y1="160.3" x2="460.2" y2="160.3" stroke="#333" stroke-width="0.7"/>
<text x="283.2" y="173.5" font-size="5.6" fill="#222" font-weight="bold" text-anchor="end">1</text>
<text x="283.2" y="185.5" font-size="5.6" fill="#222" font-weight="bold" text-anchor="end">0</text>
<line x1="287.3" y1="171.4" x2="288.8" y2="171.4" stroke="#333" stroke-width="0.7"/>
<line x1="287.3" y1="183.4" x2="288.8" y2="183.4" stroke="#333" stroke-width="0.7"/>
<line x1="461.7" y1="171.4" x2="460.2" y2="171.4" stroke="#333" stroke-width="0.7"/>
<line x1="461.7" y1="183.4" x2="460.2" y2="183.4" stroke="#333" stroke-width="0.7"/>
<text x="283.2" y="196.5" font-size="5.6" fill="#222" font-weight="bold" text-anchor="end">1</text>
<text x="283.2" y="208.3" font-size="5.6" fill="#222" font-weight="bold" text-anchor="end">0</text>
<line x1="287.3" y1="194.4" x2="288.8" y2="194.4" stroke="#333" stroke-width="0.7"/>
<line x1="287.3" y1="206.2" x2="288.8" y2="206.2" stroke="#333" stroke-width="0.7"/>
<line x1="461.7" y1="194.4" x2="460.2" y2="194.4" stroke="#333" stroke-width="0.7"/>
<line x1="461.7" y1="206.2" x2="460.2" y2="206.2" stroke="#333" stroke-width="0.7"/>
<polyline points="287.3,160.3 415.6,160.3 415.6,148.2 461.7,148.2" fill="none" stroke="#9a3ab4" stroke-width="1.1"/>
<line x1="288.6" y1="145" x2="298" y2="145" stroke="#9a3ab4" stroke-width="1"/>
<text x="299" y="147.1" font-size="5.8" fill="#9a3ab4" font-weight="bold" textLength="53.7" lengthAdjust="spacingAndGlyphs">Modulation: 365 nm</text>
<line x1="288.6" y1="167" x2="298" y2="167" stroke="#e0504a" stroke-width="1"/>
<text x="299" y="169.1" font-size="5.8" fill="#e0504a" font-weight="bold" textLength="42.8" lengthAdjust="spacingAndGlyphs">Input 1: 635 nm</text>
<line x1="288.6" y1="190" x2="298" y2="190" stroke="#5cc488" stroke-width="1"/>
<text x="299" y="192.1" font-size="5.8" fill="#5cc488" font-weight="bold" textLength="43" lengthAdjust="spacingAndGlyphs">Input 2: 525 nm</text>
<line x1="287.3" y1="183.4" x2="461.7" y2="183.4" stroke="#e0504a" stroke-width="1.3"/>
<rect x="336.8" y="171.4" width="1.6" height="12" fill="#e0504a"/>
<rect x="349.4" y="171.4" width="1.6" height="12" fill="#e0504a"/>
<rect x="362.4" y="171.4" width="1.6" height="12" fill="#e0504a"/>
<rect x="373.5" y="171.4" width="1.6" height="12" fill="#e0504a"/>
<rect x="386" y="171.4" width="1.6" height="12" fill="#e0504a"/>
<rect x="398.8" y="171.4" width="1.6" height="12" fill="#e0504a"/>
<rect x="415.6" y="171.4" width="1.6" height="12" fill="#e0504a"/>
<rect x="428.6" y="171.4" width="1.6" height="12" fill="#e0504a"/>
<rect x="441.6" y="171.4" width="1.6" height="12" fill="#e0504a"/>
<rect x="455" y="171.4" width="1.6" height="12" fill="#e0504a"/>
<line x1="287.3" y1="206.3" x2="461.7" y2="206.3" stroke="#5cc488" stroke-width="1.5"/>
<rect x="295.6" y="194.4" width="1.6" height="12" fill="#5cc488"/>
<rect x="301.6" y="194.4" width="1.6" height="12" fill="#5cc488"/>
<rect x="307.9" y="194.4" width="1.6" height="12" fill="#5cc488"/>
<rect x="314.1" y="194.4" width="1.6" height="12" fill="#5cc488"/>
<rect x="320.7" y="194.4" width="1.6" height="12" fill="#5cc488"/>
<rect x="373.5" y="194.4" width="1.6" height="12" fill="#5cc488"/>
<rect x="379.4" y="194.4" width="1.6" height="12" fill="#5cc488"/>
<rect x="385.8" y="194.4" width="1.6" height="12" fill="#5cc488"/>
<rect x="392.4" y="194.4" width="1.6" height="12" fill="#5cc488"/>
<rect x="398.8" y="194.4" width="1.6" height="12" fill="#5cc488"/>
<rect x="416" y="194.4" width="1.6" height="12" fill="#5cc488"/>
<rect x="421.9" y="194.4" width="1.6" height="12" fill="#5cc488"/>
<rect x="428.6" y="194.4" width="1.6" height="12" fill="#5cc488"/>
<rect x="434.9" y="194.4" width="1.6" height="12" fill="#5cc488"/>
<rect x="441.3" y="194.4" width="1.6" height="12" fill="#5cc488"/>
<text x="284" y="216.8" font-size="6" fill="#222" font-weight="bold" text-anchor="end" textLength="11.4" lengthAdjust="spacingAndGlyphs">2.8μ</text>
<line x1="287.3" y1="214.7" x2="289.1" y2="214.7" stroke="#333" stroke-width="0.8"/>
<line x1="461.7" y1="214.7" x2="459.9" y2="214.7" stroke="#333" stroke-width="0.8"/>
<line x1="287.3" y1="207.7" x2="288.3" y2="207.7" stroke="#333" stroke-width="0.6"/>
<text x="284" y="230.8" font-size="6" fill="#222" font-weight="bold" text-anchor="end" textLength="11.4" lengthAdjust="spacingAndGlyphs">2.4μ</text>
<line x1="287.3" y1="228.7" x2="289.1" y2="228.7" stroke="#333" stroke-width="0.8"/>
<line x1="461.7" y1="228.7" x2="459.9" y2="228.7" stroke="#333" stroke-width="0.8"/>
<line x1="287.3" y1="221.7" x2="288.3" y2="221.7" stroke="#333" stroke-width="0.6"/>
<text x="284" y="244.8" font-size="6" fill="#222" font-weight="bold" text-anchor="end" textLength="11.4" lengthAdjust="spacingAndGlyphs">2.0μ</text>
<line x1="287.3" y1="242.7" x2="289.1" y2="242.7" stroke="#333" stroke-width="0.8"/>
<line x1="461.7" y1="242.7" x2="459.9" y2="242.7" stroke="#333" stroke-width="0.8"/>
<line x1="287.3" y1="235.7" x2="288.3" y2="235.7" stroke="#333" stroke-width="0.6"/>
<text x="284" y="258.8" font-size="6" fill="#222" font-weight="bold" text-anchor="end" textLength="11.4" lengthAdjust="spacingAndGlyphs">1.6μ</text>
<line x1="287.3" y1="256.7" x2="289.1" y2="256.7" stroke="#333" stroke-width="0.8"/>
<line x1="461.7" y1="256.7" x2="459.9" y2="256.7" stroke="#333" stroke-width="0.8"/>
<line x1="287.3" y1="249.7" x2="288.3" y2="249.7" stroke="#333" stroke-width="0.6"/>
<text x="284" y="272.8" font-size="6" fill="#222" font-weight="bold" text-anchor="end" textLength="11.4" lengthAdjust="spacingAndGlyphs">1.2μ</text>
<line x1="287.3" y1="270.7" x2="289.1" y2="270.7" stroke="#333" stroke-width="0.8"/>
<line x1="461.7" y1="270.7" x2="459.9" y2="270.7" stroke="#333" stroke-width="0.8"/>
<line x1="287.3" y1="263.7" x2="288.3" y2="263.7" stroke="#333" stroke-width="0.6"/>
<text x="268" y="244.5" font-size="6.6" fill="#222" stroke="#222" stroke-width="0.15" font-weight="bold" text-anchor="middle" textLength="30" lengthAdjust="spacingAndGlyphs" transform="rotate(-90 268 244.5)">Current (A)</text>
<text x="321" y="231.2" font-size="6.4" fill="#e03a2a" font-weight="bold" textLength="47.4" lengthAdjust="spacingAndGlyphs">Threshold :2 μA</text>
<line x1="328.7" y1="233.6" x2="328.7" y2="238" stroke="#e03a2a" stroke-width="0.8"/>
<path d="M327.0 237.2 L328.7 240.2 L330.4 237.2 Z" fill="#e03a2a" stroke="none" stroke-width="1"/>
<text x="352.6" y="219.6" font-size="6.8" fill="#222" font-weight="bold" text-anchor="middle" textLength="9.6" lengthAdjust="spacingAndGlyphs">OR</text>
<text x="438.1" y="220" font-size="6.8" fill="#222" font-weight="bold" text-anchor="middle" textLength="14.2" lengthAdjust="spacingAndGlyphs">AND</text>
<polyline points="287.8,262.3 291.3,263.7 295.1,264.75 297.7,264.05 298.6,265.45 299.8,265.1 301.1,264.75 303.7,264.05 304.6,265.45 305.8,265.1 307.4,264.75 310,264.05 310.9,265.45 312.1,265.1 313.6,264.75 316.2,264.05 317.1,265.45 318.3,265.1 320.2,264.75 322.8,264.05 323.7,265.45 324.9,265.1 336.5,263.7 339.1,263 340,264.4 341.2,264.05 348.9,263.7 351.5,263 352.4,264.4 353.6,264.05 361.9,263.7 364.5,263 365.4,264.4 366.6,264.05 373,262.3 375.6,261.6 376.5,263 377.7,262.65 378.9,262.3 381.5,261.6 382.4,263 383.6,262.65 385.3,262.3 387.9,261.6 388.8,263 390,262.65 391.9,262.3 394.5,261.6 395.4,263 396.6,262.65 398.3,262.3 400.9,261.6 401.8,263 403,262.65 415.9,261.95 416.3,270.35 415.5,270.69 418.1,269.99 419,271.39 420.2,271.04 421.9,270.49 424.5,269.79 425.4,271.19 426.6,270.84 428.1,270.3 430.7,269.6 431.6,271 432.8,270.65 434.4,270.1 437,269.4 437.9,270.8 439.1,270.45 440.8,269.9 443.4,269.2 444.3,270.6 445.5,270.25 454.1,269.49 456.7,268.79 457.6,270.19 458.8,269.84 461.2,268.95" fill="none" stroke="#333" stroke-width="1.1" stroke-linejoin="round"/>
<path d="M295.1 265.05 L295.3 236.7 Q296.4 234.9 297.5 236.7 L297.7 265.05 Z" fill="#a8a68c"/>
<circle cx="296.4" cy="236.3" r="0.95" fill="#3a3a34"/>
<path d="M301.1 265.05 L301.3 237.4 Q302.4 235.6 303.5 237.4 L303.7 265.05 Z" fill="#a8a68c"/>
<circle cx="302.4" cy="237" r="0.95" fill="#3a3a34"/>
<path d="M307.4 265.05 L307.6 237.4 Q308.7 235.6 309.8 237.4 L310 265.05 Z" fill="#a8a68c"/>
<circle cx="308.7" cy="237" r="0.95" fill="#3a3a34"/>
<path d="M313.6 265.05 L313.8 238.1 Q314.9 236.3 316 238.1 L316.2 265.05 Z" fill="#a8a68c"/>
<circle cx="314.9" cy="237.7" r="0.95" fill="#3a3a34"/>
<path d="M320.2 265.05 L320.4 238.45 Q321.5 236.65 322.6 238.45 L322.8 265.05 Z" fill="#a8a68c"/>
<circle cx="321.5" cy="238.05" r="0.95" fill="#3a3a34"/>
<path d="M336.5 264 L336.7 236.7 Q337.8 234.9 338.9 236.7 L339.1 264 Z" fill="#a8a68c"/>
<circle cx="337.8" cy="236.3" r="0.95" fill="#3a3a34"/>
<path d="M348.9 264 L349.1 236.7 Q350.2 234.9 351.3 236.7 L351.5 264 Z" fill="#a8a68c"/>
<circle cx="350.2" cy="236.3" r="0.95" fill="#3a3a34"/>
<path d="M361.9 264 L362.1 236.7 Q363.2 234.9 364.3 236.7 L364.5 264 Z" fill="#a8a68c"/>
<circle cx="363.2" cy="236.3" r="0.95" fill="#3a3a34"/>
<path d="M373 262.6 L373.2 217.45 Q374.3 215.65 375.4 217.45 L375.6 262.6 Z" fill="#a8a68c"/>
<circle cx="374.3" cy="217.05" r="0.95" fill="#3a3a34"/>
<path d="M378.9 262.6 L379.1 234.95 Q380.2 233.15 381.3 234.95 L381.5 262.6 Z" fill="#a8a68c"/>
<circle cx="380.2" cy="234.55" r="0.95" fill="#3a3a34"/>
<path d="M385.3 262.6 L385.5 217.45 Q386.6 215.65 387.7 217.45 L387.9 262.6 Z" fill="#a8a68c"/>
<circle cx="386.6" cy="217.05" r="0.95" fill="#3a3a34"/>
<path d="M391.9 262.6 L392.1 233.2 Q393.2 231.4 394.3 233.2 L394.5 262.6 Z" fill="#a8a68c"/>
<circle cx="393.2" cy="232.8" r="0.95" fill="#3a3a34"/>
<path d="M398.3 262.6 L398.5 217.45 Q399.6 215.65 400.7 217.45 L400.9 262.6 Z" fill="#a8a68c"/>
<circle cx="399.6" cy="217.05" r="0.95" fill="#3a3a34"/>
<path d="M415.5 270.99 L415.7 238.45 Q416.8 236.65 417.9 238.45 L418.1 270.99 Z" fill="#a8a68c"/>
<circle cx="416.8" cy="238.05" r="0.95" fill="#3a3a34"/>
<path d="M421.9 270.79 L422.1 252.45 Q423.2 250.65 424.3 252.45 L424.5 270.79 Z" fill="#a8a68c"/>
<circle cx="423.2" cy="252.05" r="0.95" fill="#3a3a34"/>
<path d="M428.1 270.6 L428.3 236.7 Q429.4 234.9 430.5 236.7 L430.7 270.6 Z" fill="#a8a68c"/>
<circle cx="429.4" cy="236.3" r="0.95" fill="#3a3a34"/>
<path d="M434.4 270.4 L434.6 250.7 Q435.7 248.9 436.8 250.7 L437 270.4 Z" fill="#a8a68c"/>
<circle cx="435.7" cy="250.3" r="0.95" fill="#3a3a34"/>
<path d="M440.8 270.2 L441 234.95 Q442.1 233.15 443.2 234.95 L443.4 270.2 Z" fill="#a8a68c"/>
<circle cx="442.1" cy="234.55" r="0.95" fill="#3a3a34"/>
<path d="M454.1 269.79 L454.3 248.95 Q455.4 247.15 456.5 248.95 L456.7 269.79 Z" fill="#a8a68c"/>
<circle cx="455.4" cy="248.55" r="0.95" fill="#3a3a34"/>
<line x1="288.3" y1="242.7" x2="460.7" y2="242.7" stroke="#e2664a" stroke-width="1.2" stroke-dasharray="3.6 2.8" opacity="0.9"/>
<text x="51.5" y="217.3" font-size="20" fill="#000" font-family='"Liberation Serif", serif' stroke="#000" stroke-width="0.15">f</text>
<rect x="73.1" y="207.3" width="171.5" height="43.6" fill="#fafadf"/>
<rect x="73.1" y="250.9" width="171.5" height="42.7" fill="#dbeef5"/>
<rect x="91.3" y="196.4" width="35.6" height="10.9" fill="#7434a4"/>
<rect x="126.9" y="196.4" width="28.6" height="10.9" fill="#e8242c"/>
<rect x="155.5" y="196.4" width="29" height="10.9" fill="#20a448"/>
<text x="109.1" y="204.5" font-size="6.2" fill="#fff" stroke="#fff" stroke-width="0.12" text-anchor="middle" textLength="27.6" lengthAdjust="spacingAndGlyphs">Modulation</text>
<text x="141.2" y="204.5" font-size="6.2" fill="#fff" stroke="#fff" stroke-width="0.12" text-anchor="middle" textLength="17.3" lengthAdjust="spacingAndGlyphs">Input 1</text>
<text x="170" y="204.5" font-size="6.2" fill="#fff" stroke="#fff" stroke-width="0.12" text-anchor="middle" textLength="17.3" lengthAdjust="spacingAndGlyphs">Input 2</text>
<text x="197.7" y="204.5" font-size="6.2" fill="#111" font-weight="bold" text-anchor="middle" textLength="18.4" lengthAdjust="spacingAndGlyphs">Current</text>
<text x="227.75" y="204.5" font-size="6.2" fill="#111" font-weight="bold" text-anchor="middle" textLength="24.2" lengthAdjust="spacingAndGlyphs">Threshold</text>
<text x="109.1" y="215.7" font-size="6.8" fill="#222" stroke="#222" stroke-width="0.15" font-weight="bold" text-anchor="middle" textLength="3.9" lengthAdjust="spacingAndGlyphs">0</text>
<text x="141.2" y="215.7" font-size="6.8" fill="#222" stroke="#222" stroke-width="0.15" font-weight="bold" text-anchor="middle" textLength="3.9" lengthAdjust="spacingAndGlyphs">0</text>
<text x="170" y="215.7" font-size="6.8" fill="#222" stroke="#222" stroke-width="0.15" font-weight="bold" text-anchor="middle" textLength="3.9" lengthAdjust="spacingAndGlyphs">0</text>
<text x="197.7" y="215.7" font-size="6.8" fill="#222" stroke="#222" stroke-width="0.15" font-weight="bold" text-anchor="middle" textLength="8.4" lengthAdjust="spacingAndGlyphs">1.4</text>
<text x="227.75" y="215.7" font-size="6.8" fill="#222" stroke="#222" stroke-width="0.15" font-weight="bold" text-anchor="middle" textLength="3.9" lengthAdjust="spacingAndGlyphs">0</text>
<text x="109.1" y="226" font-size="6.8" fill="#222" stroke="#222" stroke-width="0.15" font-weight="bold" text-anchor="middle" textLength="3.9" lengthAdjust="spacingAndGlyphs">0</text>
<text x="141.2" y="226" font-size="6.8" fill="#222" stroke="#222" stroke-width="0.15" font-weight="bold" text-anchor="middle" textLength="3.9" lengthAdjust="spacingAndGlyphs">0</text>
<text x="170" y="226" font-size="6.8" fill="#222" stroke="#222" stroke-width="0.15" font-weight="bold" text-anchor="middle" textLength="3.9" lengthAdjust="spacingAndGlyphs">1</text>
<text x="197.7" y="226" font-size="6.8" fill="#4a4cb0" stroke="#4a4cb0" stroke-width="0.15" font-weight="bold" text-anchor="middle" textLength="8.4" lengthAdjust="spacingAndGlyphs">2.2</text>
<line x1="193.5" y1="227" x2="201.9" y2="227" stroke="#4a4cb0" stroke-width="0.45" opacity="0.45"/>
<text x="227.75" y="226" font-size="6.8" fill="#4a4cb0" stroke="#4a4cb0" stroke-width="0.15" font-weight="bold" text-anchor="middle" textLength="3.9" lengthAdjust="spacingAndGlyphs">1</text>
<line x1="226.25" y1="227" x2="229.25" y2="227" stroke="#4a4cb0" stroke-width="0.45" opacity="0.45"/>
<text x="109.1" y="236.9" font-size="6.8" fill="#222" stroke="#222" stroke-width="0.15" font-weight="bold" text-anchor="middle" textLength="3.9" lengthAdjust="spacingAndGlyphs">0</text>
<text x="141.2" y="236.9" font-size="6.8" fill="#222" stroke="#222" stroke-width="0.15" font-weight="bold" text-anchor="middle" textLength="3.9" lengthAdjust="spacingAndGlyphs">1</text>
<text x="170" y="236.9" font-size="6.8" fill="#222" stroke="#222" stroke-width="0.15" font-weight="bold" text-anchor="middle" textLength="3.9" lengthAdjust="spacingAndGlyphs">0</text>
<text x="197.7" y="236.9" font-size="6.8" fill="#4a4cb0" stroke="#4a4cb0" stroke-width="0.15" font-weight="bold" text-anchor="middle" textLength="8.4" lengthAdjust="spacingAndGlyphs">2.2</text>
<line x1="193.5" y1="237.9" x2="201.9" y2="237.9" stroke="#4a4cb0" stroke-width="0.45" opacity="0.45"/>
<text x="227.75" y="236.9" font-size="6.8" fill="#4a4cb0" stroke="#4a4cb0" stroke-width="0.15" font-weight="bold" text-anchor="middle" textLength="3.9" lengthAdjust="spacingAndGlyphs">1</text>
<line x1="226.25" y1="237.9" x2="229.25" y2="237.9" stroke="#4a4cb0" stroke-width="0.45" opacity="0.45"/>
<text x="109.1" y="247.3" font-size="6.8" fill="#222" stroke="#222" stroke-width="0.15" font-weight="bold" text-anchor="middle" textLength="3.9" lengthAdjust="spacingAndGlyphs">0</text>
<text x="141.2" y="247.3" font-size="6.8" fill="#222" stroke="#222" stroke-width="0.15" font-weight="bold" text-anchor="middle" textLength="3.9" lengthAdjust="spacingAndGlyphs">1</text>
<text x="170" y="247.3" font-size="6.8" fill="#222" stroke="#222" stroke-width="0.15" font-weight="bold" text-anchor="middle" textLength="3.9" lengthAdjust="spacingAndGlyphs">1</text>
<text x="197.7" y="247.3" font-size="6.8" fill="#4a4cb0" stroke="#4a4cb0" stroke-width="0.15" font-weight="bold" text-anchor="middle" textLength="8.4" lengthAdjust="spacingAndGlyphs">2.7</text>
<line x1="193.5" y1="248.3" x2="201.9" y2="248.3" stroke="#4a4cb0" stroke-width="0.45" opacity="0.45"/>
<text x="227.75" y="247.3" font-size="6.8" fill="#4a4cb0" stroke="#4a4cb0" stroke-width="0.15" font-weight="bold" text-anchor="middle" textLength="3.9" lengthAdjust="spacingAndGlyphs">1</text>
<line x1="226.25" y1="248.3" x2="229.25" y2="248.3" stroke="#4a4cb0" stroke-width="0.45" opacity="0.45"/>
<text x="109.1" y="259.1" font-size="6.8" fill="#222" stroke="#222" stroke-width="0.15" font-weight="bold" text-anchor="middle" textLength="3.9" lengthAdjust="spacingAndGlyphs">1</text>
<text x="141.2" y="259.1" font-size="6.8" fill="#222" stroke="#222" stroke-width="0.15" font-weight="bold" text-anchor="middle" textLength="3.9" lengthAdjust="spacingAndGlyphs">0</text>
<text x="170" y="259.1" font-size="6.8" fill="#222" stroke="#222" stroke-width="0.15" font-weight="bold" text-anchor="middle" textLength="3.9" lengthAdjust="spacingAndGlyphs">0</text>
<text x="197.7" y="259.1" font-size="6.8" fill="#222" stroke="#222" stroke-width="0.15" font-weight="bold" text-anchor="middle" textLength="8.4" lengthAdjust="spacingAndGlyphs">1.2</text>
<text x="227.75" y="259.1" font-size="6.8" fill="#222" stroke="#222" stroke-width="0.15" font-weight="bold" text-anchor="middle" textLength="3.9" lengthAdjust="spacingAndGlyphs">0</text>
<text x="109.1" y="269.7" font-size="6.8" fill="#222" stroke="#222" stroke-width="0.15" font-weight="bold" text-anchor="middle" textLength="3.9" lengthAdjust="spacingAndGlyphs">1</text>
<text x="141.2" y="269.7" font-size="6.8" fill="#222" stroke="#222" stroke-width="0.15" font-weight="bold" text-anchor="middle" textLength="3.9" lengthAdjust="spacingAndGlyphs">0</text>
<text x="170" y="269.7" font-size="6.8" fill="#222" stroke="#222" stroke-width="0.15" font-weight="bold" text-anchor="middle" textLength="3.9" lengthAdjust="spacingAndGlyphs">1</text>
<text x="197.7" y="269.7" font-size="6.8" fill="#222" stroke="#222" stroke-width="0.15" font-weight="bold" text-anchor="middle" textLength="8.4" lengthAdjust="spacingAndGlyphs">1.8</text>
<text x="227.75" y="269.7" font-size="6.8" fill="#222" stroke="#222" stroke-width="0.15" font-weight="bold" text-anchor="middle" textLength="3.9" lengthAdjust="spacingAndGlyphs">0</text>
<text x="109.1" y="280.2" font-size="6.8" fill="#222" stroke="#222" stroke-width="0.15" font-weight="bold" text-anchor="middle" textLength="3.9" lengthAdjust="spacingAndGlyphs">1</text>
<text x="141.2" y="280.2" font-size="6.8" fill="#222" stroke="#222" stroke-width="0.15" font-weight="bold" text-anchor="middle" textLength="3.9" lengthAdjust="spacingAndGlyphs">1</text>
<text x="170" y="280.2" font-size="6.8" fill="#222" stroke="#222" stroke-width="0.15" font-weight="bold" text-anchor="middle" textLength="3.9" lengthAdjust="spacingAndGlyphs">0</text>
<text x="197.7" y="280.2" font-size="6.8" fill="#222" stroke="#222" stroke-width="0.15" font-weight="bold" text-anchor="middle" textLength="8.4" lengthAdjust="spacingAndGlyphs">1.8</text>
<text x="227.75" y="280.2" font-size="6.8" fill="#222" stroke="#222" stroke-width="0.15" font-weight="bold" text-anchor="middle" textLength="3.9" lengthAdjust="spacingAndGlyphs">0</text>
<text x="109.1" y="290.6" font-size="6.8" fill="#222" stroke="#222" stroke-width="0.15" font-weight="bold" text-anchor="middle" textLength="3.9" lengthAdjust="spacingAndGlyphs">1</text>
<text x="141.2" y="290.6" font-size="6.8" fill="#222" stroke="#222" stroke-width="0.15" font-weight="bold" text-anchor="middle" textLength="3.9" lengthAdjust="spacingAndGlyphs">1</text>
<text x="170" y="290.6" font-size="6.8" fill="#222" stroke="#222" stroke-width="0.15" font-weight="bold" text-anchor="middle" textLength="3.9" lengthAdjust="spacingAndGlyphs">1</text>
<text x="197.7" y="290.6" font-size="6.8" fill="#4a4cb0" stroke="#4a4cb0" stroke-width="0.15" font-weight="bold" text-anchor="middle" textLength="8.4" lengthAdjust="spacingAndGlyphs">2.2</text>
<line x1="193.5" y1="291.6" x2="201.9" y2="291.6" stroke="#4a4cb0" stroke-width="0.45" opacity="0.45"/>
<text x="227.75" y="290.6" font-size="6.8" fill="#4a4cb0" stroke="#4a4cb0" stroke-width="0.15" font-weight="bold" text-anchor="middle" textLength="3.9" lengthAdjust="spacingAndGlyphs">1</text>
<line x1="226.25" y1="291.6" x2="229.25" y2="291.6" stroke="#4a4cb0" stroke-width="0.45" opacity="0.45"/>
<text x="82.2" y="231.9" font-size="6.8" fill="#222" font-weight="bold" text-anchor="middle" textLength="9" lengthAdjust="spacingAndGlyphs">OR</text>
<text x="82.2" y="274.9" font-size="6.8" fill="#222" font-weight="bold" text-anchor="middle" textLength="13" lengthAdjust="spacingAndGlyphs">AND</text>
<line x1="73.1" y1="196.4" x2="73.1" y2="293.6" stroke="#3a3a3a" stroke-width="1.3"/>
<line x1="91.3" y1="196.4" x2="91.3" y2="293.6" stroke="#3a3a3a" stroke-width="1.3"/>
<line x1="126.9" y1="196.4" x2="126.9" y2="293.6" stroke="#3a3a3a" stroke-width="1.3"/>
<line x1="155.5" y1="196.4" x2="155.5" y2="293.6" stroke="#3a3a3a" stroke-width="1.3"/>
<line x1="184.5" y1="196.4" x2="184.5" y2="293.6" stroke="#3a3a3a" stroke-width="1.3"/>
<line x1="210.9" y1="196.4" x2="210.9" y2="293.6" stroke="#3a3a3a" stroke-width="1.3"/>
<line x1="244.6" y1="196.4" x2="244.6" y2="293.6" stroke="#3a3a3a" stroke-width="1.3"/>
<line x1="72.5" y1="196.4" x2="245.2" y2="196.4" stroke="#3a3a3a" stroke-width="1.3"/>
<line x1="72.5" y1="207.3" x2="245.2" y2="207.3" stroke="#3a3a3a" stroke-width="1.3"/>
<line x1="72.5" y1="250.9" x2="245.2" y2="250.9" stroke="#3a3a3a" stroke-width="1.3"/>
<line x1="72.5" y1="293.6" x2="245.2" y2="293.6" stroke="#3a3a3a" stroke-width="1.3"/>
</svg>
</body></html>
